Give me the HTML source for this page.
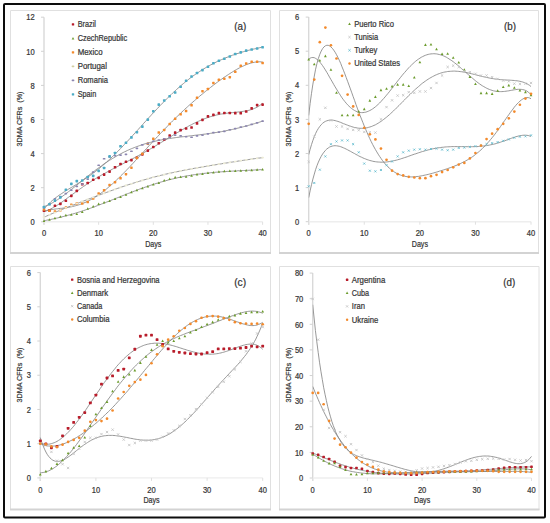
<!DOCTYPE html>
<html><head><meta charset="utf-8"><title>3DMA CFRs</title><style>html,body{margin:0;padding:0;background:#fff;}body{width:550px;height:523px;position:relative;overflow:hidden;font-family:"Liberation Sans", sans-serif;}</style></head><body>
<svg width="550" height="523" viewBox="0 0 550 523" style="position:absolute;left:0;top:0">
<style>text{font-family:"Liberation Sans",sans-serif;stroke:#363636;stroke-width:0.22px;paint-order:stroke;}</style>
<defs><clipPath id="cb"><rect x="308.7" y="14" width="223.32" height="207.7"/></clipPath><clipPath id="cd"><rect x="312.7" y="270" width="219.8" height="208.0"/></clipPath></defs>
<rect x="0" y="0" width="550" height="523" fill="#fff"/>
<path d="M10.5,253.5 V10.5 H270.5 V253.5" fill="none" stroke="#e0e0e0" stroke-width="1"/>
<rect x="10" y="252.0" width="261" height="2" fill="#d3d3d3"/>
<line x1="44.00" y1="17.20" x2="44.00" y2="224.80" stroke="#d9d9d9" stroke-width="1.4"/>
<line x1="44.00" y1="221.80" x2="262.60" y2="221.80" stroke="#eeeeee" stroke-width="1.4"/>
<line x1="41.00" y1="221.80" x2="44.00" y2="221.80" stroke="#d2d2d2" stroke-width="1"/>
<text x="34.60" y="225" text-anchor="end" font-size="8.2" fill="#363636" textLength="4.20" lengthAdjust="spacingAndGlyphs">0</text>
<line x1="41.00" y1="187.70" x2="44.00" y2="187.70" stroke="#d2d2d2" stroke-width="1"/>
<text x="34.60" y="191" text-anchor="end" font-size="8.2" fill="#363636" textLength="4.20" lengthAdjust="spacingAndGlyphs">2</text>
<line x1="41.00" y1="153.60" x2="44.00" y2="153.60" stroke="#d2d2d2" stroke-width="1"/>
<text x="34.60" y="157" text-anchor="end" font-size="8.2" fill="#363636" textLength="4.20" lengthAdjust="spacingAndGlyphs">4</text>
<line x1="41.00" y1="119.50" x2="44.00" y2="119.50" stroke="#d2d2d2" stroke-width="1"/>
<text x="34.60" y="123" text-anchor="end" font-size="8.2" fill="#363636" textLength="4.20" lengthAdjust="spacingAndGlyphs">6</text>
<line x1="41.00" y1="85.40" x2="44.00" y2="85.40" stroke="#d2d2d2" stroke-width="1"/>
<text x="34.60" y="89" text-anchor="end" font-size="8.2" fill="#363636" textLength="4.20" lengthAdjust="spacingAndGlyphs">8</text>
<line x1="41.00" y1="51.30" x2="44.00" y2="51.30" stroke="#d2d2d2" stroke-width="1"/>
<text x="34.60" y="55" text-anchor="end" font-size="8.2" fill="#363636" textLength="8.40" lengthAdjust="spacingAndGlyphs">10</text>
<line x1="41.00" y1="17.20" x2="44.00" y2="17.20" stroke="#d2d2d2" stroke-width="1"/>
<text x="34.60" y="20" text-anchor="end" font-size="8.2" fill="#363636" textLength="8.40" lengthAdjust="spacingAndGlyphs">12</text>
<line x1="44.00" y1="221.80" x2="44.00" y2="224.80" stroke="#e0e0e0" stroke-width="1"/>
<text x="44.00" y="236.05" text-anchor="middle" font-size="8.2" fill="#363636" textLength="4.20" lengthAdjust="spacingAndGlyphs">0</text>
<line x1="98.65" y1="221.80" x2="98.65" y2="224.80" stroke="#e0e0e0" stroke-width="1"/>
<text x="98.65" y="236.05" text-anchor="middle" font-size="8.2" fill="#363636" textLength="8.40" lengthAdjust="spacingAndGlyphs">10</text>
<line x1="153.30" y1="221.80" x2="153.30" y2="224.80" stroke="#e0e0e0" stroke-width="1"/>
<text x="153.30" y="236.05" text-anchor="middle" font-size="8.2" fill="#363636" textLength="8.40" lengthAdjust="spacingAndGlyphs">20</text>
<line x1="207.95" y1="221.80" x2="207.95" y2="224.80" stroke="#e0e0e0" stroke-width="1"/>
<text x="207.95" y="236.05" text-anchor="middle" font-size="8.2" fill="#363636" textLength="8.40" lengthAdjust="spacingAndGlyphs">30</text>
<line x1="262.60" y1="221.80" x2="262.60" y2="224.80" stroke="#e0e0e0" stroke-width="1"/>
<text x="262.60" y="236.05" text-anchor="middle" font-size="8.2" fill="#363636" textLength="8.40" lengthAdjust="spacingAndGlyphs">40</text>
<path d="M279.5,253.5 V10.5 H538.5 V253.5" fill="none" stroke="#e0e0e0" stroke-width="1"/>
<rect x="279" y="252.0" width="260" height="2" fill="#d3d3d3"/>
<line x1="308.70" y1="17.10" x2="308.70" y2="224.70" stroke="#d9d9d9" stroke-width="1.4"/>
<line x1="308.70" y1="221.70" x2="531.02" y2="221.70" stroke="#eeeeee" stroke-width="1.4"/>
<line x1="305.70" y1="221.70" x2="308.70" y2="221.70" stroke="#d2d2d2" stroke-width="1"/>
<text x="299.30" y="225" text-anchor="end" font-size="8.2" fill="#363636" textLength="4.20" lengthAdjust="spacingAndGlyphs">0</text>
<line x1="305.70" y1="187.60" x2="308.70" y2="187.60" stroke="#d2d2d2" stroke-width="1"/>
<text x="299.30" y="191" text-anchor="end" font-size="8.2" fill="#363636" textLength="4.20" lengthAdjust="spacingAndGlyphs">1</text>
<line x1="305.70" y1="153.50" x2="308.70" y2="153.50" stroke="#d2d2d2" stroke-width="1"/>
<text x="299.30" y="157" text-anchor="end" font-size="8.2" fill="#363636" textLength="4.20" lengthAdjust="spacingAndGlyphs">2</text>
<line x1="305.70" y1="119.40" x2="308.70" y2="119.40" stroke="#d2d2d2" stroke-width="1"/>
<text x="299.30" y="123" text-anchor="end" font-size="8.2" fill="#363636" textLength="4.20" lengthAdjust="spacingAndGlyphs">3</text>
<line x1="305.70" y1="85.30" x2="308.70" y2="85.30" stroke="#d2d2d2" stroke-width="1"/>
<text x="299.30" y="88" text-anchor="end" font-size="8.2" fill="#363636" textLength="4.20" lengthAdjust="spacingAndGlyphs">4</text>
<line x1="305.70" y1="51.20" x2="308.70" y2="51.20" stroke="#d2d2d2" stroke-width="1"/>
<text x="299.30" y="54" text-anchor="end" font-size="8.2" fill="#363636" textLength="4.20" lengthAdjust="spacingAndGlyphs">5</text>
<line x1="305.70" y1="17.10" x2="308.70" y2="17.10" stroke="#d2d2d2" stroke-width="1"/>
<text x="299.30" y="20" text-anchor="end" font-size="8.2" fill="#363636" textLength="4.20" lengthAdjust="spacingAndGlyphs">6</text>
<line x1="308.70" y1="221.70" x2="308.70" y2="224.70" stroke="#e0e0e0" stroke-width="1"/>
<text x="308.70" y="235.95" text-anchor="middle" font-size="8.2" fill="#363636" textLength="4.20" lengthAdjust="spacingAndGlyphs">0</text>
<line x1="364.28" y1="221.70" x2="364.28" y2="224.70" stroke="#e0e0e0" stroke-width="1"/>
<text x="364.28" y="235.95" text-anchor="middle" font-size="8.2" fill="#363636" textLength="8.40" lengthAdjust="spacingAndGlyphs">10</text>
<line x1="419.86" y1="221.70" x2="419.86" y2="224.70" stroke="#e0e0e0" stroke-width="1"/>
<text x="419.86" y="235.95" text-anchor="middle" font-size="8.2" fill="#363636" textLength="8.40" lengthAdjust="spacingAndGlyphs">20</text>
<line x1="475.44" y1="221.70" x2="475.44" y2="224.70" stroke="#e0e0e0" stroke-width="1"/>
<text x="475.44" y="235.95" text-anchor="middle" font-size="8.2" fill="#363636" textLength="8.40" lengthAdjust="spacingAndGlyphs">30</text>
<line x1="531.02" y1="221.70" x2="531.02" y2="224.70" stroke="#e0e0e0" stroke-width="1"/>
<text x="531.02" y="235.95" text-anchor="middle" font-size="8.2" fill="#363636" textLength="8.40" lengthAdjust="spacingAndGlyphs">40</text>
<path d="M10.5,510 V266.5 H270.5 V510" fill="none" stroke="#e0e0e0" stroke-width="1"/>
<rect x="10" y="508.5" width="261" height="2" fill="#d3d3d3"/>
<line x1="40.30" y1="272.58" x2="40.30" y2="480.90" stroke="#d9d9d9" stroke-width="1.4"/>
<line x1="40.30" y1="477.90" x2="262.70" y2="477.90" stroke="#eeeeee" stroke-width="1.4"/>
<line x1="37.30" y1="477.90" x2="40.30" y2="477.90" stroke="#d2d2d2" stroke-width="1"/>
<text x="30.90" y="481" text-anchor="end" font-size="8.2" fill="#363636" textLength="4.20" lengthAdjust="spacingAndGlyphs">0</text>
<line x1="37.30" y1="443.68" x2="40.30" y2="443.68" stroke="#d2d2d2" stroke-width="1"/>
<text x="30.90" y="447" text-anchor="end" font-size="8.2" fill="#363636" textLength="4.20" lengthAdjust="spacingAndGlyphs">1</text>
<line x1="37.30" y1="409.46" x2="40.30" y2="409.46" stroke="#d2d2d2" stroke-width="1"/>
<text x="30.90" y="413" text-anchor="end" font-size="8.2" fill="#363636" textLength="4.20" lengthAdjust="spacingAndGlyphs">2</text>
<line x1="37.30" y1="375.24" x2="40.30" y2="375.24" stroke="#d2d2d2" stroke-width="1"/>
<text x="30.90" y="378" text-anchor="end" font-size="8.2" fill="#363636" textLength="4.20" lengthAdjust="spacingAndGlyphs">3</text>
<line x1="37.30" y1="341.02" x2="40.30" y2="341.02" stroke="#d2d2d2" stroke-width="1"/>
<text x="30.90" y="344" text-anchor="end" font-size="8.2" fill="#363636" textLength="4.20" lengthAdjust="spacingAndGlyphs">4</text>
<line x1="37.30" y1="306.80" x2="40.30" y2="306.80" stroke="#d2d2d2" stroke-width="1"/>
<text x="30.90" y="310" text-anchor="end" font-size="8.2" fill="#363636" textLength="4.20" lengthAdjust="spacingAndGlyphs">5</text>
<line x1="37.30" y1="272.58" x2="40.30" y2="272.58" stroke="#d2d2d2" stroke-width="1"/>
<text x="30.90" y="276" text-anchor="end" font-size="8.2" fill="#363636" textLength="4.20" lengthAdjust="spacingAndGlyphs">6</text>
<line x1="40.30" y1="477.90" x2="40.30" y2="480.90" stroke="#e0e0e0" stroke-width="1"/>
<text x="40.30" y="493.15" text-anchor="middle" font-size="8.2" fill="#363636" textLength="4.20" lengthAdjust="spacingAndGlyphs">0</text>
<line x1="95.90" y1="477.90" x2="95.90" y2="480.90" stroke="#e0e0e0" stroke-width="1"/>
<text x="95.90" y="493.15" text-anchor="middle" font-size="8.2" fill="#363636" textLength="8.40" lengthAdjust="spacingAndGlyphs">10</text>
<line x1="151.50" y1="477.90" x2="151.50" y2="480.90" stroke="#e0e0e0" stroke-width="1"/>
<text x="151.50" y="493.15" text-anchor="middle" font-size="8.2" fill="#363636" textLength="8.40" lengthAdjust="spacingAndGlyphs">20</text>
<line x1="207.10" y1="477.90" x2="207.10" y2="480.90" stroke="#e0e0e0" stroke-width="1"/>
<text x="207.10" y="493.15" text-anchor="middle" font-size="8.2" fill="#363636" textLength="8.40" lengthAdjust="spacingAndGlyphs">30</text>
<line x1="262.70" y1="477.90" x2="262.70" y2="480.90" stroke="#e0e0e0" stroke-width="1"/>
<text x="262.70" y="493.15" text-anchor="middle" font-size="8.2" fill="#363636" textLength="8.40" lengthAdjust="spacingAndGlyphs">40</text>
<path d="M279.5,510 V266.5 H539.0 V510" fill="none" stroke="#e0e0e0" stroke-width="1"/>
<rect x="279" y="508.5" width="260.5" height="2" fill="#d3d3d3"/>
<line x1="312.70" y1="273.08" x2="312.70" y2="481.00" stroke="#d9d9d9" stroke-width="1.4"/>
<line x1="312.70" y1="478.00" x2="531.50" y2="478.00" stroke="#eeeeee" stroke-width="1.4"/>
<line x1="309.70" y1="478.00" x2="312.70" y2="478.00" stroke="#d2d2d2" stroke-width="1"/>
<text x="303.30" y="481" text-anchor="end" font-size="8.2" fill="#363636" textLength="4.20" lengthAdjust="spacingAndGlyphs">0</text>
<line x1="309.70" y1="452.38" x2="312.70" y2="452.38" stroke="#d2d2d2" stroke-width="1"/>
<text x="303.30" y="456" text-anchor="end" font-size="8.2" fill="#363636" textLength="8.40" lengthAdjust="spacingAndGlyphs">10</text>
<line x1="309.70" y1="426.77" x2="312.70" y2="426.77" stroke="#d2d2d2" stroke-width="1"/>
<text x="303.30" y="430" text-anchor="end" font-size="8.2" fill="#363636" textLength="8.40" lengthAdjust="spacingAndGlyphs">20</text>
<line x1="309.70" y1="401.15" x2="312.70" y2="401.15" stroke="#d2d2d2" stroke-width="1"/>
<text x="303.30" y="404" text-anchor="end" font-size="8.2" fill="#363636" textLength="8.40" lengthAdjust="spacingAndGlyphs">30</text>
<line x1="309.70" y1="375.54" x2="312.70" y2="375.54" stroke="#d2d2d2" stroke-width="1"/>
<text x="303.30" y="379" text-anchor="end" font-size="8.2" fill="#363636" textLength="8.40" lengthAdjust="spacingAndGlyphs">40</text>
<line x1="309.70" y1="349.92" x2="312.70" y2="349.92" stroke="#d2d2d2" stroke-width="1"/>
<text x="303.30" y="353" text-anchor="end" font-size="8.2" fill="#363636" textLength="8.40" lengthAdjust="spacingAndGlyphs">50</text>
<line x1="309.70" y1="324.31" x2="312.70" y2="324.31" stroke="#d2d2d2" stroke-width="1"/>
<text x="303.30" y="328" text-anchor="end" font-size="8.2" fill="#363636" textLength="8.40" lengthAdjust="spacingAndGlyphs">60</text>
<line x1="309.70" y1="298.69" x2="312.70" y2="298.69" stroke="#d2d2d2" stroke-width="1"/>
<text x="303.30" y="302" text-anchor="end" font-size="8.2" fill="#363636" textLength="8.40" lengthAdjust="spacingAndGlyphs">70</text>
<line x1="309.70" y1="273.08" x2="312.70" y2="273.08" stroke="#d2d2d2" stroke-width="1"/>
<text x="303.30" y="276" text-anchor="end" font-size="8.2" fill="#363636" textLength="8.40" lengthAdjust="spacingAndGlyphs">80</text>
<line x1="312.70" y1="478.00" x2="312.70" y2="481.00" stroke="#e0e0e0" stroke-width="1"/>
<text x="312.70" y="493.25" text-anchor="middle" font-size="8.2" fill="#363636" textLength="4.20" lengthAdjust="spacingAndGlyphs">0</text>
<line x1="367.40" y1="478.00" x2="367.40" y2="481.00" stroke="#e0e0e0" stroke-width="1"/>
<text x="367.40" y="493.25" text-anchor="middle" font-size="8.2" fill="#363636" textLength="8.40" lengthAdjust="spacingAndGlyphs">10</text>
<line x1="422.10" y1="478.00" x2="422.10" y2="481.00" stroke="#e0e0e0" stroke-width="1"/>
<text x="422.10" y="493.25" text-anchor="middle" font-size="8.2" fill="#363636" textLength="8.40" lengthAdjust="spacingAndGlyphs">20</text>
<line x1="476.80" y1="478.00" x2="476.80" y2="481.00" stroke="#e0e0e0" stroke-width="1"/>
<text x="476.80" y="493.25" text-anchor="middle" font-size="8.2" fill="#363636" textLength="8.40" lengthAdjust="spacingAndGlyphs">30</text>
<line x1="531.50" y1="478.00" x2="531.50" y2="481.00" stroke="#e0e0e0" stroke-width="1"/>
<text x="531.50" y="493.25" text-anchor="middle" font-size="8.2" fill="#363636" textLength="8.40" lengthAdjust="spacingAndGlyphs">40</text>
<rect x="4" y="4" width="541" height="513.6" rx="1" fill="none" stroke="#0d0d0d" stroke-width="2"/>
<polyline points="44.0,211.5 45.4,211.1 46.7,210.7 48.1,210.1 49.5,209.5 50.8,208.9 52.2,208.2 53.6,207.4 54.9,206.6 56.3,205.8 57.7,204.9 59.0,204.0 60.4,203.1 61.8,202.2 63.1,201.2 64.5,200.2 65.9,199.2 67.2,198.2 68.6,197.2 70.0,196.2 71.3,195.2 72.7,194.2 74.1,193.2 75.4,192.2 76.8,191.2 78.2,190.3 79.5,189.3 80.9,188.3 82.3,187.4 83.6,186.4 85.0,185.5 86.4,184.5 87.7,183.6 89.1,182.7 90.5,181.9 91.8,181.0 93.2,180.1 94.6,179.3 95.9,178.4 97.3,177.6 98.7,176.8 100.0,176.0 101.4,175.2 102.7,174.4 104.1,173.7 105.5,172.9 106.8,172.2 108.2,171.4 109.6,170.7 110.9,170.0 112.3,169.2 113.7,168.5 115.0,167.8 116.4,167.1 117.8,166.4 119.1,165.7 120.5,165.0 121.9,164.3 123.2,163.6 124.6,162.9 126.0,162.2 127.3,161.5 128.7,160.7 130.1,160.0 131.4,159.3 132.8,158.6 134.2,157.9 135.5,157.1 136.9,156.4 138.3,155.7 139.6,154.9 141.0,154.2 142.4,153.4 143.7,152.7 145.1,151.9 146.5,151.1 147.8,150.4 149.2,149.6 150.6,148.8 151.9,148.0 153.3,147.2 154.7,146.4 156.0,145.6 157.4,144.7 158.8,143.9 160.1,143.1 161.5,142.3 162.9,141.4 164.2,140.6 165.6,139.8 167.0,138.9 168.3,138.1 169.7,137.2 171.1,136.4 172.4,135.6 173.8,134.7 175.2,133.9 176.5,133.1 177.9,132.3 179.3,131.5 180.6,130.6 182.0,129.9 183.4,129.1 184.7,128.3 186.1,127.5 187.5,126.8 188.8,126.0 190.2,125.3 191.6,124.6 192.9,123.9 194.3,123.2 195.7,122.5 197.0,121.9 198.4,121.3 199.8,120.7 201.1,120.1 202.5,119.5 203.9,119.0 205.2,118.5 206.6,118.0 207.9,117.5 209.3,117.0 210.7,116.6 212.0,116.2 213.4,115.8 214.8,115.5 216.1,115.1 217.5,114.8 218.9,114.5 220.2,114.2 221.6,114.0 223.0,113.8 224.3,113.5 225.7,113.3 227.1,113.2 228.4,113.0 229.8,112.8 231.2,112.7 232.5,112.6 233.9,112.4 235.3,112.3 236.6,112.2 238.0,112.0 239.4,111.9 240.7,111.7 242.1,111.5 243.5,111.3 244.8,111.1 246.2,110.9 247.6,110.6 248.9,110.3 250.3,109.9 251.7,109.5 253.0,109.0 254.4,108.4 255.8,107.8 257.1,107.1 258.5,106.3 259.9,105.4 261.2,104.4 262.6,103.3" fill="none" stroke="#858585" stroke-width="0.85"/>
<polyline points="44.0,220.8 45.4,220.5 46.7,220.2 48.1,219.9 49.5,219.7 50.8,219.4 52.2,219.1 53.6,218.8 54.9,218.5 56.3,218.2 57.7,217.9 59.0,217.6 60.4,217.2 61.8,216.9 63.1,216.6 64.5,216.2 65.9,215.9 67.2,215.5 68.6,215.1 70.0,214.8 71.3,214.4 72.7,214.0 74.1,213.6 75.4,213.2 76.8,212.8 78.2,212.3 79.5,211.9 80.9,211.5 82.3,211.0 83.6,210.6 85.0,210.1 86.4,209.6 87.7,209.2 89.1,208.7 90.5,208.2 91.8,207.7 93.2,207.2 94.6,206.7 95.9,206.2 97.3,205.7 98.7,205.2 100.0,204.7 101.4,204.1 102.7,203.6 104.1,203.1 105.5,202.5 106.8,202.0 108.2,201.5 109.6,200.9 110.9,200.4 112.3,199.8 113.7,199.3 115.0,198.7 116.4,198.2 117.8,197.6 119.1,197.1 120.5,196.5 121.9,196.0 123.2,195.5 124.6,194.9 126.0,194.4 127.3,193.8 128.7,193.3 130.1,192.8 131.4,192.2 132.8,191.7 134.2,191.2 135.5,190.7 136.9,190.2 138.3,189.6 139.6,189.1 141.0,188.6 142.4,188.1 143.7,187.7 145.1,187.2 146.5,186.7 147.8,186.2 149.2,185.8 150.6,185.3 151.9,184.8 153.3,184.4 154.7,184.0 156.0,183.5 157.4,183.1 158.8,182.7 160.1,182.3 161.5,181.9 162.9,181.5 164.2,181.1 165.6,180.7 167.0,180.4 168.3,180.0 169.7,179.7 171.1,179.3 172.4,179.0 173.8,178.7 175.2,178.3 176.5,178.0 177.9,177.7 179.3,177.4 180.6,177.1 182.0,176.9 183.4,176.6 184.7,176.3 186.1,176.1 187.5,175.8 188.8,175.6 190.2,175.4 191.6,175.1 192.9,174.9 194.3,174.7 195.7,174.5 197.0,174.3 198.4,174.1 199.8,174.0 201.1,173.8 202.5,173.6 203.9,173.4 205.2,173.3 206.6,173.1 207.9,173.0 209.3,172.9 210.7,172.7 212.0,172.6 213.4,172.5 214.8,172.3 216.1,172.2 217.5,172.1 218.9,172.0 220.2,171.9 221.6,171.8 223.0,171.7 224.3,171.6 225.7,171.5 227.1,171.4 228.4,171.4 229.8,171.3 231.2,171.2 232.5,171.1 233.9,171.0 235.3,171.0 236.6,170.9 238.0,170.8 239.4,170.7 240.7,170.7 242.1,170.6 243.5,170.5 244.8,170.5 246.2,170.4 247.6,170.3 248.9,170.3 250.3,170.2 251.7,170.1 253.0,170.1 254.4,170.0 255.8,169.9 257.1,169.9 258.5,169.8 259.9,169.7 261.2,169.7 262.6,169.6" fill="none" stroke="#858585" stroke-width="0.85"/>
<polyline points="44.0,211.3 45.4,210.9 46.7,210.6 48.1,210.2 49.5,210.0 50.8,209.7 52.2,209.5 53.6,209.3 54.9,209.1 56.3,208.9 57.7,208.8 59.0,208.6 60.4,208.4 61.8,208.3 63.1,208.1 64.5,207.9 65.9,207.7 67.2,207.5 68.6,207.3 70.0,207.0 71.3,206.8 72.7,206.5 74.1,206.1 75.4,205.8 76.8,205.4 78.2,205.0 79.5,204.6 80.9,204.1 82.3,203.6 83.6,203.1 85.0,202.5 86.4,201.9 87.7,201.2 89.1,200.6 90.5,199.8 91.8,199.1 93.2,198.3 94.6,197.5 95.9,196.6 97.3,195.8 98.7,194.8 100.0,193.9 101.4,192.9 102.7,191.9 104.1,190.9 105.5,189.8 106.8,188.7 108.2,187.5 109.6,186.4 110.9,185.2 112.3,184.0 113.7,182.8 115.0,181.5 116.4,180.2 117.8,178.9 119.1,177.6 120.5,176.2 121.9,174.9 123.2,173.5 124.6,172.1 126.0,170.7 127.3,169.3 128.7,167.9 130.1,166.4 131.4,165.0 132.8,163.5 134.2,162.0 135.5,160.5 136.9,159.1 138.3,157.6 139.6,156.1 141.0,154.6 142.4,153.1 143.7,151.6 145.1,150.1 146.5,148.6 147.8,147.1 149.2,145.6 150.6,144.1 151.9,142.6 153.3,141.1 154.7,139.7 156.0,138.2 157.4,136.7 158.8,135.3 160.1,133.8 161.5,132.4 162.9,130.9 164.2,129.5 165.6,128.1 167.0,126.7 168.3,125.3 169.7,123.9 171.1,122.5 172.4,121.1 173.8,119.8 175.2,118.4 176.5,117.1 177.9,115.8 179.3,114.5 180.6,113.2 182.0,111.9 183.4,110.6 184.7,109.3 186.1,108.1 187.5,106.8 188.8,105.6 190.2,104.4 191.6,103.2 192.9,102.0 194.3,100.8 195.7,99.6 197.0,98.4 198.4,97.3 199.8,96.1 201.1,95.0 202.5,93.9 203.9,92.7 205.2,91.6 206.6,90.5 207.9,89.5 209.3,88.4 210.7,87.3 212.0,86.3 213.4,85.2 214.8,84.2 216.1,83.1 217.5,82.1 218.9,81.1 220.2,80.1 221.6,79.2 223.0,78.2 224.3,77.2 225.7,76.3 227.1,75.4 228.4,74.5 229.8,73.6 231.2,72.7 232.5,71.9 233.9,71.0 235.3,70.2 236.6,69.4 238.0,68.7 239.4,67.9 240.7,67.2 242.1,66.5 243.5,65.9 244.8,65.3 246.2,64.7 247.6,64.2 248.9,63.7 250.3,63.3 251.7,62.9 253.0,62.5 254.4,62.3 255.8,62.0 257.1,61.9 258.5,61.8 259.9,61.8 261.2,61.9 262.6,62.0" fill="none" stroke="#858585" stroke-width="0.85"/>
<polyline points="44.0,217.3 45.4,216.6 46.7,216.0 48.1,215.4 49.5,214.8 50.8,214.2 52.2,213.6 53.6,213.0 54.9,212.4 56.3,211.8 57.7,211.3 59.0,210.7 60.4,210.1 61.8,209.6 63.1,209.0 64.5,208.5 65.9,207.9 67.2,207.4 68.6,206.8 70.0,206.3 71.3,205.8 72.7,205.2 74.1,204.7 75.4,204.2 76.8,203.6 78.2,203.1 79.5,202.6 80.9,202.0 82.3,201.5 83.6,201.0 85.0,200.5 86.4,199.9 87.7,199.4 89.1,198.9 90.5,198.4 91.8,197.9 93.2,197.3 94.6,196.8 95.9,196.3 97.3,195.8 98.7,195.3 100.0,194.8 101.4,194.3 102.7,193.8 104.1,193.3 105.5,192.8 106.8,192.3 108.2,191.8 109.6,191.3 110.9,190.8 112.3,190.3 113.7,189.8 115.0,189.3 116.4,188.8 117.8,188.3 119.1,187.9 120.5,187.4 121.9,186.9 123.2,186.5 124.6,186.0 126.0,185.5 127.3,185.1 128.7,184.6 130.1,184.2 131.4,183.8 132.8,183.3 134.2,182.9 135.5,182.5 136.9,182.0 138.3,181.6 139.6,181.2 141.0,180.8 142.4,180.4 143.7,180.0 145.1,179.6 146.5,179.2 147.8,178.8 149.2,178.4 150.6,178.0 151.9,177.7 153.3,177.3 154.7,176.9 156.0,176.6 157.4,176.2 158.8,175.9 160.1,175.5 161.5,175.2 162.9,174.9 164.2,174.5 165.6,174.2 167.0,173.9 168.3,173.6 169.7,173.3 171.1,173.0 172.4,172.7 173.8,172.4 175.2,172.1 176.5,171.8 177.9,171.5 179.3,171.2 180.6,170.9 182.0,170.7 183.4,170.4 184.7,170.1 186.1,169.9 187.5,169.6 188.8,169.3 190.2,169.1 191.6,168.8 192.9,168.6 194.3,168.3 195.7,168.1 197.0,167.9 198.4,167.6 199.8,167.4 201.1,167.2 202.5,166.9 203.9,166.7 205.2,166.5 206.6,166.2 207.9,166.0 209.3,165.8 210.7,165.5 212.0,165.3 213.4,165.1 214.8,164.9 216.1,164.7 217.5,164.4 218.9,164.2 220.2,164.0 221.6,163.8 223.0,163.5 224.3,163.3 225.7,163.1 227.1,162.9 228.4,162.7 229.8,162.4 231.2,162.2 232.5,162.0 233.9,161.8 235.3,161.6 236.6,161.4 238.0,161.1 239.4,160.9 240.7,160.7 242.1,160.5 243.5,160.3 244.8,160.1 246.2,159.9 247.6,159.7 248.9,159.5 250.3,159.3 251.7,159.1 253.0,158.9 254.4,158.7 255.8,158.5 257.1,158.3 258.5,158.1 259.9,158.0 261.2,157.8 262.6,157.7" fill="none" stroke="#858585" stroke-width="0.85"/>
<polyline points="44.0,206.6 45.4,206.1 46.7,205.6 48.1,205.0 49.5,204.4 50.8,203.7 52.2,202.9 53.6,202.2 54.9,201.3 56.3,200.5 57.7,199.6 59.0,198.7 60.4,197.7 61.8,196.8 63.1,195.8 64.5,194.8 65.9,193.7 67.2,192.7 68.6,191.6 70.0,190.6 71.3,189.5 72.7,188.4 74.1,187.3 75.4,186.2 76.8,185.1 78.2,184.0 79.5,182.8 80.9,181.7 82.3,180.6 83.6,179.5 85.0,178.4 86.4,177.3 87.7,176.2 89.1,175.1 90.5,174.0 91.8,173.0 93.2,171.9 94.6,170.9 95.9,169.8 97.3,168.8 98.7,167.8 100.0,166.8 101.4,165.9 102.7,164.9 104.1,163.9 105.5,163.0 106.8,162.1 108.2,161.2 109.6,160.3 110.9,159.5 112.3,158.6 113.7,157.8 115.0,157.0 116.4,156.2 117.8,155.4 119.1,154.7 120.5,153.9 121.9,153.2 123.2,152.5 124.6,151.8 126.0,151.2 127.3,150.5 128.7,149.9 130.1,149.3 131.4,148.7 132.8,148.2 134.2,147.6 135.5,147.1 136.9,146.6 138.3,146.1 139.6,145.6 141.0,145.1 142.4,144.7 143.7,144.2 145.1,143.8 146.5,143.4 147.8,143.0 149.2,142.7 150.6,142.3 151.9,142.0 153.3,141.6 154.7,141.3 156.0,141.0 157.4,140.7 158.8,140.4 160.1,140.1 161.5,139.9 162.9,139.6 164.2,139.4 165.6,139.1 167.0,138.9 168.3,138.7 169.7,138.5 171.1,138.3 172.4,138.1 173.8,137.9 175.2,137.7 176.5,137.5 177.9,137.3 179.3,137.2 180.6,137.0 182.0,136.8 183.4,136.7 184.7,136.5 186.1,136.3 187.5,136.2 188.8,136.0 190.2,135.9 191.6,135.7 192.9,135.6 194.3,135.4 195.7,135.2 197.0,135.1 198.4,134.9 199.8,134.8 201.1,134.6 202.5,134.4 203.9,134.2 205.2,134.1 206.6,133.9 207.9,133.7 209.3,133.5 210.7,133.3 212.0,133.1 213.4,132.9 214.8,132.7 216.1,132.5 217.5,132.3 218.9,132.0 220.2,131.8 221.6,131.6 223.0,131.3 224.3,131.1 225.7,130.8 227.1,130.5 228.4,130.2 229.8,130.0 231.2,129.7 232.5,129.4 233.9,129.1 235.3,128.8 236.6,128.4 238.0,128.1 239.4,127.8 240.7,127.4 242.1,127.1 243.5,126.7 244.8,126.4 246.2,126.0 247.6,125.6 248.9,125.2 250.3,124.9 251.7,124.5 253.0,124.1 254.4,123.7 255.8,123.2 257.1,122.8 258.5,122.4 259.9,122.0 261.2,121.6 262.6,121.1" fill="none" stroke="#858585" stroke-width="0.85"/>
<polyline points="44.0,208.9 45.4,207.3 46.7,205.8 48.1,204.4 49.5,203.1 50.8,201.8 52.2,200.6 53.6,199.5 54.9,198.4 56.3,197.3 57.7,196.3 59.0,195.3 60.4,194.4 61.8,193.5 63.1,192.6 64.5,191.7 65.9,190.8 67.2,190.0 68.6,189.1 70.0,188.3 71.3,187.5 72.7,186.7 74.1,185.8 75.4,185.0 76.8,184.2 78.2,183.3 79.5,182.5 80.9,181.6 82.3,180.7 83.6,179.9 85.0,178.9 86.4,178.0 87.7,177.1 89.1,176.1 90.5,175.2 91.8,174.2 93.2,173.1 94.6,172.1 95.9,171.1 97.3,170.0 98.7,168.9 100.0,167.8 101.4,166.6 102.7,165.5 104.1,164.3 105.5,163.1 106.8,161.8 108.2,160.6 109.6,159.3 110.9,158.1 112.3,156.8 113.7,155.4 115.0,154.1 116.4,152.7 117.8,151.4 119.1,150.0 120.5,148.6 121.9,147.2 123.2,145.7 124.6,144.3 126.0,142.8 127.3,141.4 128.7,139.9 130.1,138.4 131.4,136.9 132.8,135.4 134.2,133.9 135.5,132.4 136.9,130.9 138.3,129.4 139.6,127.9 141.0,126.4 142.4,124.9 143.7,123.3 145.1,121.8 146.5,120.3 147.8,118.8 149.2,117.3 150.6,115.8 151.9,114.3 153.3,112.9 154.7,111.4 156.0,109.9 157.4,108.5 158.8,107.0 160.1,105.6 161.5,104.2 162.9,102.8 164.2,101.4 165.6,100.0 167.0,98.6 168.3,97.3 169.7,95.9 171.1,94.6 172.4,93.3 173.8,92.0 175.2,90.8 176.5,89.5 177.9,88.3 179.3,87.1 180.6,85.9 182.0,84.7 183.4,83.6 184.7,82.5 186.1,81.3 187.5,80.3 188.8,79.2 190.2,78.1 191.6,77.1 192.9,76.1 194.3,75.1 195.7,74.2 197.0,73.2 198.4,72.3 199.8,71.4 201.1,70.5 202.5,69.7 203.9,68.8 205.2,68.0 206.6,67.2 207.9,66.4 209.3,65.6 210.7,64.9 212.0,64.2 213.4,63.5 214.8,62.8 216.1,62.1 217.5,61.4 218.9,60.8 220.2,60.2 221.6,59.6 223.0,59.0 224.3,58.4 225.7,57.8 227.1,57.3 228.4,56.8 229.8,56.2 231.2,55.7 232.5,55.2 233.9,54.8 235.3,54.3 236.6,53.8 238.0,53.4 239.4,53.0 240.7,52.5 242.1,52.1 243.5,51.7 244.8,51.3 246.2,50.9 247.6,50.6 248.9,50.2 250.3,49.9 251.7,49.5 253.0,49.2 254.4,48.9 255.8,48.6 257.1,48.3 258.5,48.0 259.9,47.7 261.2,47.4 262.6,47.2" fill="none" stroke="#858585" stroke-width="0.85"/>
<rect x="42.70" y="209.40" width="2.60" height="2.60" rx="0.59" fill="#b81c2a"/>
<rect x="48.17" y="209.23" width="2.60" height="2.60" rx="0.59" fill="#b81c2a"/>
<rect x="53.63" y="204.44" width="2.60" height="2.60" rx="0.59" fill="#b81c2a"/>
<rect x="59.09" y="202.57" width="2.60" height="2.60" rx="0.59" fill="#b81c2a"/>
<rect x="64.56" y="199.49" width="2.60" height="2.60" rx="0.59" fill="#b81c2a"/>
<rect x="70.03" y="194.54" width="2.60" height="2.60" rx="0.59" fill="#b81c2a"/>
<rect x="75.49" y="189.59" width="2.60" height="2.60" rx="0.59" fill="#b81c2a"/>
<rect x="80.95" y="182.92" width="2.60" height="2.60" rx="0.59" fill="#b81c2a"/>
<rect x="86.42" y="181.73" width="2.60" height="2.60" rx="0.59" fill="#b81c2a"/>
<rect x="91.89" y="178.48" width="2.60" height="2.60" rx="0.59" fill="#b81c2a"/>
<rect x="97.35" y="176.60" width="2.60" height="2.60" rx="0.59" fill="#b81c2a"/>
<rect x="102.81" y="173.36" width="2.60" height="2.60" rx="0.59" fill="#b81c2a"/>
<rect x="108.28" y="170.28" width="2.60" height="2.60" rx="0.59" fill="#b81c2a"/>
<rect x="113.75" y="166.01" width="2.60" height="2.60" rx="0.59" fill="#b81c2a"/>
<rect x="119.21" y="162.77" width="2.60" height="2.60" rx="0.59" fill="#b81c2a"/>
<rect x="124.67" y="160.38" width="2.60" height="2.60" rx="0.59" fill="#b81c2a"/>
<rect x="130.14" y="158.84" width="2.60" height="2.60" rx="0.59" fill="#b81c2a"/>
<rect x="135.60" y="156.45" width="2.60" height="2.60" rx="0.59" fill="#b81c2a"/>
<rect x="141.07" y="153.03" width="2.60" height="2.60" rx="0.59" fill="#b81c2a"/>
<rect x="146.53" y="149.28" width="2.60" height="2.60" rx="0.59" fill="#b81c2a"/>
<rect x="152.00" y="145.69" width="2.60" height="2.60" rx="0.59" fill="#b81c2a"/>
<rect x="157.46" y="141.93" width="2.60" height="2.60" rx="0.59" fill="#b81c2a"/>
<rect x="162.93" y="138.17" width="2.60" height="2.60" rx="0.59" fill="#b81c2a"/>
<rect x="168.39" y="134.25" width="2.60" height="2.60" rx="0.59" fill="#b81c2a"/>
<rect x="173.86" y="131.34" width="2.60" height="2.60" rx="0.59" fill="#b81c2a"/>
<rect x="179.32" y="128.78" width="2.60" height="2.60" rx="0.59" fill="#b81c2a"/>
<rect x="184.79" y="127.24" width="2.60" height="2.60" rx="0.59" fill="#b81c2a"/>
<rect x="190.25" y="126.22" width="2.60" height="2.60" rx="0.59" fill="#b81c2a"/>
<rect x="195.72" y="122.12" width="2.60" height="2.60" rx="0.59" fill="#b81c2a"/>
<rect x="201.18" y="118.53" width="2.60" height="2.60" rx="0.59" fill="#b81c2a"/>
<rect x="206.65" y="115.12" width="2.60" height="2.60" rx="0.59" fill="#b81c2a"/>
<rect x="212.11" y="113.58" width="2.60" height="2.60" rx="0.59" fill="#b81c2a"/>
<rect x="217.58" y="111.87" width="2.60" height="2.60" rx="0.59" fill="#b81c2a"/>
<rect x="223.04" y="111.70" width="2.60" height="2.60" rx="0.59" fill="#b81c2a"/>
<rect x="228.51" y="111.70" width="2.60" height="2.60" rx="0.59" fill="#b81c2a"/>
<rect x="233.97" y="111.87" width="2.60" height="2.60" rx="0.59" fill="#b81c2a"/>
<rect x="239.44" y="111.87" width="2.60" height="2.60" rx="0.59" fill="#b81c2a"/>
<rect x="244.90" y="110.16" width="2.60" height="2.60" rx="0.59" fill="#b81c2a"/>
<rect x="250.37" y="107.09" width="2.60" height="2.60" rx="0.59" fill="#b81c2a"/>
<rect x="255.83" y="103.84" width="2.60" height="2.60" rx="0.59" fill="#b81c2a"/>
<rect x="261.30" y="103.33" width="2.60" height="2.60" rx="0.59" fill="#b81c2a"/>
<path d="M44.00,219.43 L45.32,221.94 L42.68,221.94Z" fill="#6b9b2c"/>
<path d="M49.47,218.23 L50.79,220.74 L48.15,220.74Z" fill="#6b9b2c"/>
<path d="M54.93,216.70 L56.25,219.20 L53.61,219.20Z" fill="#6b9b2c"/>
<path d="M60.39,215.16 L61.71,217.67 L59.07,217.67Z" fill="#6b9b2c"/>
<path d="M65.86,213.79 L67.18,216.30 L64.54,216.30Z" fill="#6b9b2c"/>
<path d="M71.33,213.28 L72.64,215.79 L70.01,215.79Z" fill="#6b9b2c"/>
<path d="M76.79,212.60 L78.11,215.10 L75.47,215.10Z" fill="#6b9b2c"/>
<path d="M82.25,210.55 L83.57,213.05 L80.94,213.05Z" fill="#6b9b2c"/>
<path d="M87.72,207.30 L89.04,209.81 L86.40,209.81Z" fill="#6b9b2c"/>
<path d="M93.19,204.91 L94.50,207.42 L91.87,207.42Z" fill="#6b9b2c"/>
<path d="M98.65,202.52 L99.97,205.03 L97.33,205.03Z" fill="#6b9b2c"/>
<path d="M104.11,200.98 L105.43,203.49 L102.80,203.49Z" fill="#6b9b2c"/>
<path d="M109.58,199.44 L110.90,201.95 L108.26,201.95Z" fill="#6b9b2c"/>
<path d="M115.05,197.57 L116.36,200.07 L113.73,200.07Z" fill="#6b9b2c"/>
<path d="M120.51,195.52 L121.83,198.02 L119.19,198.02Z" fill="#6b9b2c"/>
<path d="M125.97,193.30 L127.29,195.80 L124.66,195.80Z" fill="#6b9b2c"/>
<path d="M131.44,190.73 L132.76,193.24 L130.12,193.24Z" fill="#6b9b2c"/>
<path d="M136.91,188.68 L138.22,191.19 L135.59,191.19Z" fill="#6b9b2c"/>
<path d="M142.37,186.81 L143.69,189.31 L141.05,189.31Z" fill="#6b9b2c"/>
<path d="M147.83,184.93 L149.15,187.43 L146.51,187.43Z" fill="#6b9b2c"/>
<path d="M153.30,182.88 L154.62,185.38 L151.98,185.38Z" fill="#6b9b2c"/>
<path d="M158.76,181.51 L160.08,184.02 L157.44,184.02Z" fill="#6b9b2c"/>
<path d="M164.23,178.95 L165.55,181.46 L162.91,181.46Z" fill="#6b9b2c"/>
<path d="M169.69,177.58 L171.01,180.09 L168.38,180.09Z" fill="#6b9b2c"/>
<path d="M175.16,175.87 L176.48,178.38 L173.84,178.38Z" fill="#6b9b2c"/>
<path d="M180.62,175.53 L181.94,178.04 L179.31,178.04Z" fill="#6b9b2c"/>
<path d="M186.09,175.36 L187.41,177.87 L184.77,177.87Z" fill="#6b9b2c"/>
<path d="M191.56,174.17 L192.88,176.67 L190.24,176.67Z" fill="#6b9b2c"/>
<path d="M197.02,172.97 L198.34,175.48 L195.70,175.48Z" fill="#6b9b2c"/>
<path d="M202.48,172.46 L203.80,174.97 L201.16,174.97Z" fill="#6b9b2c"/>
<path d="M207.95,171.43 L209.27,173.94 L206.63,173.94Z" fill="#6b9b2c"/>
<path d="M213.41,170.92 L214.73,173.43 L212.09,173.43Z" fill="#6b9b2c"/>
<path d="M218.88,170.24 L220.20,172.75 L217.56,172.75Z" fill="#6b9b2c"/>
<path d="M224.34,169.73 L225.66,172.23 L223.03,172.23Z" fill="#6b9b2c"/>
<path d="M229.81,169.55 L231.13,172.06 L228.49,172.06Z" fill="#6b9b2c"/>
<path d="M235.28,169.55 L236.59,172.06 L233.96,172.06Z" fill="#6b9b2c"/>
<path d="M240.74,169.21 L242.06,171.72 L239.42,171.72Z" fill="#6b9b2c"/>
<path d="M246.20,169.04 L247.52,171.55 L244.88,171.55Z" fill="#6b9b2c"/>
<path d="M251.67,168.70 L252.99,171.21 L250.35,171.21Z" fill="#6b9b2c"/>
<path d="M257.13,168.36 L258.45,170.87 L255.81,170.87Z" fill="#6b9b2c"/>
<path d="M262.60,168.02 L263.92,170.53 L261.28,170.53Z" fill="#6b9b2c"/>
<rect x="42.75" y="208.25" width="2.50" height="2.50" rx="0.56" fill="#f38a2c"/>
<rect x="48.22" y="209.45" width="2.50" height="2.50" rx="0.56" fill="#f38a2c"/>
<rect x="53.68" y="210.13" width="2.50" height="2.50" rx="0.56" fill="#f38a2c"/>
<rect x="59.14" y="208.94" width="2.50" height="2.50" rx="0.56" fill="#f38a2c"/>
<rect x="64.61" y="206.37" width="2.50" height="2.50" rx="0.56" fill="#f38a2c"/>
<rect x="70.08" y="203.47" width="2.50" height="2.50" rx="0.56" fill="#f38a2c"/>
<rect x="75.54" y="202.27" width="2.50" height="2.50" rx="0.56" fill="#f38a2c"/>
<rect x="81.00" y="202.27" width="2.50" height="2.50" rx="0.56" fill="#f38a2c"/>
<rect x="86.47" y="200.74" width="2.50" height="2.50" rx="0.56" fill="#f38a2c"/>
<rect x="91.94" y="197.32" width="2.50" height="2.50" rx="0.56" fill="#f38a2c"/>
<rect x="97.40" y="192.20" width="2.50" height="2.50" rx="0.56" fill="#f38a2c"/>
<rect x="102.86" y="188.95" width="2.50" height="2.50" rx="0.56" fill="#f38a2c"/>
<rect x="108.33" y="183.83" width="2.50" height="2.50" rx="0.56" fill="#f38a2c"/>
<rect x="113.80" y="180.92" width="2.50" height="2.50" rx="0.56" fill="#f38a2c"/>
<rect x="119.26" y="177.00" width="2.50" height="2.50" rx="0.56" fill="#f38a2c"/>
<rect x="124.72" y="172.90" width="2.50" height="2.50" rx="0.56" fill="#f38a2c"/>
<rect x="130.19" y="166.41" width="2.50" height="2.50" rx="0.56" fill="#f38a2c"/>
<rect x="135.66" y="156.84" width="2.50" height="2.50" rx="0.56" fill="#f38a2c"/>
<rect x="141.12" y="152.40" width="2.50" height="2.50" rx="0.56" fill="#f38a2c"/>
<rect x="146.58" y="142.49" width="2.50" height="2.50" rx="0.56" fill="#f38a2c"/>
<rect x="152.05" y="137.54" width="2.50" height="2.50" rx="0.56" fill="#f38a2c"/>
<rect x="157.51" y="131.22" width="2.50" height="2.50" rx="0.56" fill="#f38a2c"/>
<rect x="162.98" y="128.66" width="2.50" height="2.50" rx="0.56" fill="#f38a2c"/>
<rect x="168.44" y="122.85" width="2.50" height="2.50" rx="0.56" fill="#f38a2c"/>
<rect x="173.91" y="117.56" width="2.50" height="2.50" rx="0.56" fill="#f38a2c"/>
<rect x="179.38" y="113.12" width="2.50" height="2.50" rx="0.56" fill="#f38a2c"/>
<rect x="184.84" y="109.87" width="2.50" height="2.50" rx="0.56" fill="#f38a2c"/>
<rect x="190.31" y="104.06" width="2.50" height="2.50" rx="0.56" fill="#f38a2c"/>
<rect x="195.77" y="96.55" width="2.50" height="2.50" rx="0.56" fill="#f38a2c"/>
<rect x="201.23" y="89.89" width="2.50" height="2.50" rx="0.56" fill="#f38a2c"/>
<rect x="206.70" y="87.67" width="2.50" height="2.50" rx="0.56" fill="#f38a2c"/>
<rect x="212.16" y="81.86" width="2.50" height="2.50" rx="0.56" fill="#f38a2c"/>
<rect x="217.63" y="78.62" width="2.50" height="2.50" rx="0.56" fill="#f38a2c"/>
<rect x="223.09" y="77.42" width="2.50" height="2.50" rx="0.56" fill="#f38a2c"/>
<rect x="228.56" y="75.88" width="2.50" height="2.50" rx="0.56" fill="#f38a2c"/>
<rect x="234.03" y="70.59" width="2.50" height="2.50" rx="0.56" fill="#f38a2c"/>
<rect x="239.49" y="64.44" width="2.50" height="2.50" rx="0.56" fill="#f38a2c"/>
<rect x="244.95" y="62.22" width="2.50" height="2.50" rx="0.56" fill="#f38a2c"/>
<rect x="250.42" y="60.51" width="2.50" height="2.50" rx="0.56" fill="#f38a2c"/>
<rect x="255.88" y="60.51" width="2.50" height="2.50" rx="0.56" fill="#f38a2c"/>
<rect x="261.35" y="61.71" width="2.50" height="2.50" rx="0.56" fill="#f38a2c"/>
<rect x="42.65" y="216.34" width="2.7" height="1.7" rx="0.7" fill="#ecebd6"/>
<rect x="48.12" y="214.02" width="2.7" height="1.7" rx="0.7" fill="#ecebd6"/>
<rect x="53.58" y="211.69" width="2.7" height="1.7" rx="0.7" fill="#ecebd6"/>
<rect x="59.04" y="209.37" width="2.7" height="1.7" rx="0.7" fill="#ecebd6"/>
<rect x="64.51" y="207.05" width="2.7" height="1.7" rx="0.7" fill="#ecebd6"/>
<rect x="69.98" y="204.72" width="2.7" height="1.7" rx="0.7" fill="#ecebd6"/>
<rect x="75.44" y="202.67" width="2.7" height="1.7" rx="0.7" fill="#ecebd6"/>
<rect x="80.91" y="200.62" width="2.7" height="1.7" rx="0.7" fill="#ecebd6"/>
<rect x="86.37" y="198.58" width="2.7" height="1.7" rx="0.7" fill="#ecebd6"/>
<rect x="91.84" y="196.53" width="2.7" height="1.7" rx="0.7" fill="#ecebd6"/>
<rect x="97.30" y="194.48" width="2.7" height="1.7" rx="0.7" fill="#ecebd6"/>
<rect x="102.77" y="192.49" width="2.7" height="1.7" rx="0.7" fill="#ecebd6"/>
<rect x="108.23" y="190.51" width="2.7" height="1.7" rx="0.7" fill="#ecebd6"/>
<rect x="113.70" y="188.53" width="2.7" height="1.7" rx="0.7" fill="#ecebd6"/>
<rect x="119.16" y="186.55" width="2.7" height="1.7" rx="0.7" fill="#ecebd6"/>
<rect x="124.62" y="184.57" width="2.7" height="1.7" rx="0.7" fill="#ecebd6"/>
<rect x="130.09" y="182.90" width="2.7" height="1.7" rx="0.7" fill="#ecebd6"/>
<rect x="135.56" y="181.22" width="2.7" height="1.7" rx="0.7" fill="#ecebd6"/>
<rect x="141.02" y="179.55" width="2.7" height="1.7" rx="0.7" fill="#ecebd6"/>
<rect x="146.48" y="177.87" width="2.7" height="1.7" rx="0.7" fill="#ecebd6"/>
<rect x="151.95" y="176.20" width="2.7" height="1.7" rx="0.7" fill="#ecebd6"/>
<rect x="157.41" y="174.97" width="2.7" height="1.7" rx="0.7" fill="#ecebd6"/>
<rect x="162.88" y="173.74" width="2.7" height="1.7" rx="0.7" fill="#ecebd6"/>
<rect x="168.34" y="172.51" width="2.7" height="1.7" rx="0.7" fill="#ecebd6"/>
<rect x="173.81" y="171.28" width="2.7" height="1.7" rx="0.7" fill="#ecebd6"/>
<rect x="179.28" y="170.05" width="2.7" height="1.7" rx="0.7" fill="#ecebd6"/>
<rect x="184.74" y="169.06" width="2.7" height="1.7" rx="0.7" fill="#ecebd6"/>
<rect x="190.21" y="168.07" width="2.7" height="1.7" rx="0.7" fill="#ecebd6"/>
<rect x="195.67" y="167.08" width="2.7" height="1.7" rx="0.7" fill="#ecebd6"/>
<rect x="201.13" y="166.09" width="2.7" height="1.7" rx="0.7" fill="#ecebd6"/>
<rect x="206.60" y="165.10" width="2.7" height="1.7" rx="0.7" fill="#ecebd6"/>
<rect x="212.06" y="164.21" width="2.7" height="1.7" rx="0.7" fill="#ecebd6"/>
<rect x="217.53" y="163.32" width="2.7" height="1.7" rx="0.7" fill="#ecebd6"/>
<rect x="223.00" y="162.43" width="2.7" height="1.7" rx="0.7" fill="#ecebd6"/>
<rect x="228.46" y="161.55" width="2.7" height="1.7" rx="0.7" fill="#ecebd6"/>
<rect x="233.93" y="160.66" width="2.7" height="1.7" rx="0.7" fill="#ecebd6"/>
<rect x="239.39" y="159.87" width="2.7" height="1.7" rx="0.7" fill="#ecebd6"/>
<rect x="244.85" y="159.09" width="2.7" height="1.7" rx="0.7" fill="#ecebd6"/>
<rect x="250.32" y="158.30" width="2.7" height="1.7" rx="0.7" fill="#ecebd6"/>
<rect x="255.78" y="157.51" width="2.7" height="1.7" rx="0.7" fill="#ecebd6"/>
<rect x="261.25" y="156.73" width="2.7" height="1.7" rx="0.7" fill="#ecebd6"/>
<rect x="42.65" y="206.94" width="2.7" height="1.7" rx="0.7" fill="#8c86b0"/>
<rect x="48.12" y="203.53" width="2.7" height="1.7" rx="0.7" fill="#8c86b0"/>
<rect x="53.58" y="198.06" width="2.7" height="1.7" rx="0.7" fill="#8c86b0"/>
<rect x="59.04" y="195.67" width="2.7" height="1.7" rx="0.7" fill="#8c86b0"/>
<rect x="64.51" y="192.77" width="2.7" height="1.7" rx="0.7" fill="#8c86b0"/>
<rect x="69.98" y="189.35" width="2.7" height="1.7" rx="0.7" fill="#8c86b0"/>
<rect x="75.44" y="185.59" width="2.7" height="1.7" rx="0.7" fill="#8c86b0"/>
<rect x="80.91" y="183.20" width="2.7" height="1.7" rx="0.7" fill="#8c86b0"/>
<rect x="86.37" y="178.25" width="2.7" height="1.7" rx="0.7" fill="#8c86b0"/>
<rect x="91.84" y="171.25" width="2.7" height="1.7" rx="0.7" fill="#8c86b0"/>
<rect x="97.30" y="164.42" width="2.7" height="1.7" rx="0.7" fill="#8c86b0"/>
<rect x="102.77" y="157.92" width="2.7" height="1.7" rx="0.7" fill="#8c86b0"/>
<rect x="108.23" y="156.05" width="2.7" height="1.7" rx="0.7" fill="#8c86b0"/>
<rect x="113.70" y="154.68" width="2.7" height="1.7" rx="0.7" fill="#8c86b0"/>
<rect x="119.16" y="154.34" width="2.7" height="1.7" rx="0.7" fill="#8c86b0"/>
<rect x="124.62" y="153.48" width="2.7" height="1.7" rx="0.7" fill="#8c86b0"/>
<rect x="130.09" y="150.41" width="2.7" height="1.7" rx="0.7" fill="#8c86b0"/>
<rect x="135.56" y="147.51" width="2.7" height="1.7" rx="0.7" fill="#8c86b0"/>
<rect x="141.02" y="144.09" width="2.7" height="1.7" rx="0.7" fill="#8c86b0"/>
<rect x="146.48" y="142.72" width="2.7" height="1.7" rx="0.7" fill="#8c86b0"/>
<rect x="151.95" y="140.50" width="2.7" height="1.7" rx="0.7" fill="#8c86b0"/>
<rect x="157.41" y="139.31" width="2.7" height="1.7" rx="0.7" fill="#8c86b0"/>
<rect x="162.88" y="138.11" width="2.7" height="1.7" rx="0.7" fill="#8c86b0"/>
<rect x="168.34" y="136.40" width="2.7" height="1.7" rx="0.7" fill="#8c86b0"/>
<rect x="173.81" y="134.18" width="2.7" height="1.7" rx="0.7" fill="#8c86b0"/>
<rect x="179.28" y="135.04" width="2.7" height="1.7" rx="0.7" fill="#8c86b0"/>
<rect x="184.74" y="135.89" width="2.7" height="1.7" rx="0.7" fill="#8c86b0"/>
<rect x="190.21" y="136.40" width="2.7" height="1.7" rx="0.7" fill="#8c86b0"/>
<rect x="195.67" y="135.04" width="2.7" height="1.7" rx="0.7" fill="#8c86b0"/>
<rect x="201.13" y="134.18" width="2.7" height="1.7" rx="0.7" fill="#8c86b0"/>
<rect x="206.60" y="132.99" width="2.7" height="1.7" rx="0.7" fill="#8c86b0"/>
<rect x="212.06" y="131.79" width="2.7" height="1.7" rx="0.7" fill="#8c86b0"/>
<rect x="217.53" y="131.28" width="2.7" height="1.7" rx="0.7" fill="#8c86b0"/>
<rect x="223.00" y="130.43" width="2.7" height="1.7" rx="0.7" fill="#8c86b0"/>
<rect x="228.46" y="128.89" width="2.7" height="1.7" rx="0.7" fill="#8c86b0"/>
<rect x="233.93" y="127.69" width="2.7" height="1.7" rx="0.7" fill="#8c86b0"/>
<rect x="239.39" y="126.33" width="2.7" height="1.7" rx="0.7" fill="#8c86b0"/>
<rect x="244.85" y="125.13" width="2.7" height="1.7" rx="0.7" fill="#8c86b0"/>
<rect x="250.32" y="123.59" width="2.7" height="1.7" rx="0.7" fill="#8c86b0"/>
<rect x="255.78" y="122.06" width="2.7" height="1.7" rx="0.7" fill="#8c86b0"/>
<rect x="261.25" y="120.35" width="2.7" height="1.7" rx="0.7" fill="#8c86b0"/>
<rect x="42.70" y="205.64" width="2.60" height="2.60" rx="0.59" fill="#4bacc6"/>
<rect x="48.17" y="202.91" width="2.60" height="2.60" rx="0.59" fill="#4bacc6"/>
<rect x="53.63" y="199.32" width="2.60" height="2.60" rx="0.59" fill="#4bacc6"/>
<rect x="59.09" y="196.08" width="2.60" height="2.60" rx="0.59" fill="#4bacc6"/>
<rect x="64.56" y="188.39" width="2.60" height="2.60" rx="0.59" fill="#4bacc6"/>
<rect x="70.03" y="182.58" width="2.60" height="2.60" rx="0.59" fill="#4bacc6"/>
<rect x="75.49" y="179.85" width="2.60" height="2.60" rx="0.59" fill="#4bacc6"/>
<rect x="80.95" y="179.17" width="2.60" height="2.60" rx="0.59" fill="#4bacc6"/>
<rect x="86.42" y="175.75" width="2.60" height="2.60" rx="0.59" fill="#4bacc6"/>
<rect x="91.89" y="174.55" width="2.60" height="2.60" rx="0.59" fill="#4bacc6"/>
<rect x="97.35" y="169.60" width="2.60" height="2.60" rx="0.59" fill="#4bacc6"/>
<rect x="102.81" y="166.70" width="2.60" height="2.60" rx="0.59" fill="#4bacc6"/>
<rect x="108.28" y="155.08" width="2.60" height="2.60" rx="0.59" fill="#4bacc6"/>
<rect x="113.75" y="151.67" width="2.60" height="2.60" rx="0.59" fill="#4bacc6"/>
<rect x="119.21" y="145.01" width="2.60" height="2.60" rx="0.59" fill="#4bacc6"/>
<rect x="124.67" y="141.42" width="2.60" height="2.60" rx="0.59" fill="#4bacc6"/>
<rect x="130.14" y="136.12" width="2.60" height="2.60" rx="0.59" fill="#4bacc6"/>
<rect x="135.60" y="131.00" width="2.60" height="2.60" rx="0.59" fill="#4bacc6"/>
<rect x="141.07" y="125.36" width="2.60" height="2.60" rx="0.59" fill="#4bacc6"/>
<rect x="146.53" y="118.36" width="2.60" height="2.60" rx="0.59" fill="#4bacc6"/>
<rect x="152.00" y="109.99" width="2.60" height="2.60" rx="0.59" fill="#4bacc6"/>
<rect x="157.46" y="103.33" width="2.60" height="2.60" rx="0.59" fill="#4bacc6"/>
<rect x="162.93" y="99.23" width="2.60" height="2.60" rx="0.59" fill="#4bacc6"/>
<rect x="168.39" y="94.96" width="2.60" height="2.60" rx="0.59" fill="#4bacc6"/>
<rect x="173.86" y="91.20" width="2.60" height="2.60" rx="0.59" fill="#4bacc6"/>
<rect x="179.32" y="85.40" width="2.60" height="2.60" rx="0.59" fill="#4bacc6"/>
<rect x="184.79" y="79.42" width="2.60" height="2.60" rx="0.59" fill="#4bacc6"/>
<rect x="190.25" y="75.15" width="2.60" height="2.60" rx="0.59" fill="#4bacc6"/>
<rect x="195.72" y="71.73" width="2.60" height="2.60" rx="0.59" fill="#4bacc6"/>
<rect x="201.18" y="68.83" width="2.60" height="2.60" rx="0.59" fill="#4bacc6"/>
<rect x="206.65" y="65.41" width="2.60" height="2.60" rx="0.59" fill="#4bacc6"/>
<rect x="212.11" y="62.00" width="2.60" height="2.60" rx="0.59" fill="#4bacc6"/>
<rect x="217.58" y="59.44" width="2.60" height="2.60" rx="0.59" fill="#4bacc6"/>
<rect x="223.04" y="57.39" width="2.60" height="2.60" rx="0.59" fill="#4bacc6"/>
<rect x="228.51" y="55.17" width="2.60" height="2.60" rx="0.59" fill="#4bacc6"/>
<rect x="233.97" y="52.77" width="2.60" height="2.60" rx="0.59" fill="#4bacc6"/>
<rect x="239.44" y="51.07" width="2.60" height="2.60" rx="0.59" fill="#4bacc6"/>
<rect x="244.90" y="49.36" width="2.60" height="2.60" rx="0.59" fill="#4bacc6"/>
<rect x="250.37" y="48.16" width="2.60" height="2.60" rx="0.59" fill="#4bacc6"/>
<rect x="255.83" y="47.14" width="2.60" height="2.60" rx="0.59" fill="#4bacc6"/>
<rect x="261.30" y="45.94" width="2.60" height="2.60" rx="0.59" fill="#4bacc6"/>
<rect x="71.80" y="23.20" width="2.40" height="2.40" rx="0.54" fill="#b81c2a"/>
<text x="77.70" y="27.35" font-size="8.2" fill="#363636" textLength="18.2" lengthAdjust="spacingAndGlyphs">Brazil</text>
<path d="M73.00,36.88 L74.32,39.39 L71.68,39.39Z" fill="#6b9b2c"/>
<text x="77.70" y="41.35" font-size="8.2" fill="#363636" textLength="49.5" lengthAdjust="spacingAndGlyphs">CzechRepublic</text>
<rect x="71.80" y="51.20" width="2.40" height="2.40" rx="0.54" fill="#f38a2c"/>
<text x="77.70" y="55.35" font-size="8.2" fill="#363636" textLength="24.9" lengthAdjust="spacingAndGlyphs">Mexico</text>
<rect x="71.65" y="65.55" width="2.7" height="1.7" rx="0.7" fill="#d2cfa2"/>
<text x="77.70" y="69.35" font-size="8.2" fill="#363636" textLength="29.3" lengthAdjust="spacingAndGlyphs">Portugal</text>
<rect x="71.65" y="79.55" width="2.7" height="1.7" rx="0.7" fill="#8c86b0"/>
<text x="77.70" y="83.35" font-size="8.2" fill="#363636" textLength="30.3" lengthAdjust="spacingAndGlyphs">Romania</text>
<rect x="71.80" y="93.20" width="2.40" height="2.40" rx="0.54" fill="#4bacc6"/>
<text x="77.70" y="97.35" font-size="8.2" fill="#363636" textLength="18.6" lengthAdjust="spacingAndGlyphs">Spain</text>
<text x="240.30" y="29.60" text-anchor="middle" font-size="10" fill="#333" textLength="12" lengthAdjust="spacingAndGlyphs">(a)</text>
<text x="153.30" y="246.80" text-anchor="middle" font-size="8.8" fill="#363636" textLength="16.2" lengthAdjust="spacingAndGlyphs">Days</text>
<text transform="translate(19.80,119.00) rotate(-90)" x="0" y="0" text-anchor="middle" font-size="7.8" fill="#363636" textLength="55" lengthAdjust="spacingAndGlyphs" dominant-baseline="central">3DMA CFRs&#160;&#160;(%)</text>
<polyline points="308.7,59.3 310.1,58.2 311.5,57.6 312.9,57.5 314.3,57.7 315.6,58.4 317.0,59.3 318.4,60.6 319.8,62.1 321.2,63.8 322.6,65.7 324.0,67.8 325.4,70.0 326.8,72.3 328.2,74.7 329.5,77.1 330.9,79.5 332.3,81.9 333.7,84.4 335.1,86.8 336.5,89.1 337.9,91.4 339.3,93.6 340.7,95.8 342.0,97.8 343.4,99.7 344.8,101.5 346.2,103.2 347.6,104.8 349.0,106.2 350.4,107.5 351.8,108.6 353.2,109.6 354.6,110.5 355.9,111.2 357.3,111.8 358.7,112.2 360.1,112.5 361.5,112.6 362.9,112.6 364.3,112.4 365.7,112.2 367.1,111.7 368.4,111.2 369.8,110.5 371.2,109.8 372.6,108.9 374.0,107.9 375.4,106.8 376.8,105.6 378.2,104.3 379.6,103.0 381.0,101.5 382.3,100.0 383.7,98.5 385.1,96.9 386.5,95.2 387.9,93.5 389.3,91.8 390.7,90.0 392.1,88.2 393.5,86.4 394.8,84.7 396.2,82.9 397.6,81.1 399.0,79.3 400.4,77.6 401.8,75.8 403.2,74.1 404.6,72.5 406.0,70.9 407.4,69.3 408.7,67.8 410.1,66.4 411.5,65.0 412.9,63.7 414.3,62.4 415.7,61.2 417.1,60.1 418.5,59.1 419.9,58.2 421.2,57.3 422.6,56.6 424.0,55.9 425.4,55.3 426.8,54.8 428.2,54.4 429.6,54.1 431.0,53.9 432.4,53.8 433.8,53.7 435.1,53.8 436.5,53.9 437.9,54.2 439.3,54.5 440.7,54.9 442.1,55.3 443.5,55.9 444.9,56.5 446.3,57.2 447.6,58.0 449.0,58.9 450.4,59.8 451.8,60.7 453.2,61.7 454.6,62.8 456.0,63.9 457.4,65.0 458.8,66.2 460.2,67.4 461.5,68.6 462.9,69.8 464.3,71.0 465.7,72.3 467.1,73.5 468.5,74.8 469.9,76.0 471.3,77.2 472.7,78.4 474.1,79.6 475.4,80.7 476.8,81.8 478.2,82.9 479.6,83.9 481.0,84.9 482.4,85.8 483.8,86.6 485.2,87.4 486.6,88.2 487.9,88.8 489.3,89.4 490.7,89.9 492.1,90.4 493.5,90.8 494.9,91.1 496.3,91.3 497.7,91.5 499.1,91.6 500.5,91.6 501.8,91.6 503.2,91.5 504.6,91.4 506.0,91.2 507.4,91.0 508.8,90.8 510.2,90.5 511.6,90.3 513.0,90.0 514.3,89.8 515.7,89.6 517.1,89.4 518.5,89.3 519.9,89.3 521.3,89.4 522.7,89.6 524.1,89.9 525.5,90.4 526.9,91.1 528.2,92.1 529.6,93.3 531.0,94.7" fill="none" stroke="#858585" stroke-width="0.85" clip-path="url(#cb)"/>
<polyline points="308.7,154.7 310.1,149.4 311.5,144.6 312.9,140.4 314.3,136.7 315.6,133.5 317.0,130.7 318.4,128.4 319.8,126.4 321.2,124.7 322.6,123.3 324.0,122.2 325.4,121.4 326.8,120.8 328.2,120.4 329.5,120.2 330.9,120.1 332.3,120.1 333.7,120.3 335.1,120.6 336.5,121.0 337.9,121.4 339.3,121.9 340.7,122.4 342.0,123.0 343.4,123.6 344.8,124.1 346.2,124.7 347.6,125.2 349.0,125.8 350.4,126.2 351.8,126.7 353.2,127.1 354.6,127.5 355.9,127.7 357.3,128.0 358.7,128.2 360.1,128.3 361.5,128.3 362.9,128.3 364.3,128.2 365.7,128.0 367.1,127.8 368.4,127.4 369.8,127.0 371.2,126.6 372.6,126.0 374.0,125.4 375.4,124.8 376.8,124.0 378.2,123.2 379.6,122.3 381.0,121.4 382.3,120.4 383.7,119.4 385.1,118.3 386.5,117.2 387.9,116.0 389.3,114.8 390.7,113.5 392.1,112.2 393.5,110.9 394.8,109.6 396.2,108.2 397.6,106.9 399.0,105.5 400.4,104.1 401.8,102.6 403.2,101.2 404.6,99.8 406.0,98.4 407.4,97.0 408.7,95.6 410.1,94.3 411.5,92.9 412.9,91.6 414.3,90.3 415.7,89.0 417.1,87.8 418.5,86.6 419.9,85.4 421.2,84.2 422.6,83.1 424.0,82.1 425.4,81.1 426.8,80.1 428.2,79.2 429.6,78.3 431.0,77.5 432.4,76.7 433.8,76.0 435.1,75.3 436.5,74.7 437.9,74.1 439.3,73.6 440.7,73.1 442.1,72.7 443.5,72.3 444.9,72.0 446.3,71.8 447.6,71.5 449.0,71.4 450.4,71.3 451.8,71.2 453.2,71.1 454.6,71.1 456.0,71.2 457.4,71.3 458.8,71.4 460.2,71.6 461.5,71.7 462.9,71.9 464.3,72.2 465.7,72.4 467.1,72.7 468.5,73.0 469.9,73.3 471.3,73.7 472.7,74.0 474.1,74.4 475.4,74.7 476.8,75.1 478.2,75.4 479.6,75.8 481.0,76.1 482.4,76.5 483.8,76.8 485.2,77.1 486.6,77.4 487.9,77.7 489.3,78.0 490.7,78.3 492.1,78.5 493.5,78.7 494.9,79.0 496.3,79.1 497.7,79.3 499.1,79.5 500.5,79.6 501.8,79.7 503.2,79.8 504.6,79.9 506.0,80.0 507.4,80.1 508.8,80.1 510.2,80.2 511.6,80.3 513.0,80.4 514.3,80.5 515.7,80.7 517.1,80.8 518.5,81.0 519.9,81.3 521.3,81.6 522.7,82.0 524.1,82.5 525.5,83.1 526.9,83.7 528.2,84.5 529.6,85.4 531.0,86.5" fill="none" stroke="#858585" stroke-width="0.85" clip-path="url(#cb)"/>
<polyline points="308.7,197.7 310.1,190.9 311.5,184.7 312.9,179.1 314.3,174.1 315.6,169.6 317.0,165.6 318.4,162.1 319.8,159.0 321.2,156.3 322.6,154.0 324.0,152.1 325.4,150.4 326.8,149.0 328.2,148.0 329.5,147.1 330.9,146.5 332.3,146.1 333.7,145.8 335.1,145.7 336.5,145.8 337.9,146.0 339.3,146.3 340.7,146.7 342.0,147.2 343.4,147.8 344.8,148.4 346.2,149.1 347.6,149.8 349.0,150.6 350.4,151.3 351.8,152.1 353.2,152.9 354.6,153.6 355.9,154.4 357.3,155.1 358.7,155.9 360.1,156.6 361.5,157.2 362.9,157.9 364.3,158.5 365.7,159.0 367.1,159.6 368.4,160.0 369.8,160.5 371.2,160.8 372.6,161.2 374.0,161.5 375.4,161.7 376.8,161.9 378.2,162.0 379.6,162.1 381.0,162.2 382.3,162.2 383.7,162.2 385.1,162.1 386.5,162.0 387.9,161.8 389.3,161.6 390.7,161.4 392.1,161.1 393.5,160.8 394.8,160.5 396.2,160.2 397.6,159.8 399.0,159.4 400.4,159.0 401.8,158.5 403.2,158.1 404.6,157.6 406.0,157.2 407.4,156.7 408.7,156.2 410.1,155.7 411.5,155.2 412.9,154.7 414.3,154.2 415.7,153.8 417.1,153.3 418.5,152.8 419.9,152.4 421.2,151.9 422.6,151.5 424.0,151.1 425.4,150.7 426.8,150.3 428.2,149.9 429.6,149.6 431.0,149.2 432.4,148.9 433.8,148.6 435.1,148.4 436.5,148.1 437.9,147.9 439.3,147.7 440.7,147.5 442.1,147.3 443.5,147.2 444.9,147.0 446.3,146.9 447.6,146.8 449.0,146.8 450.4,146.7 451.8,146.6 453.2,146.6 454.6,146.6 456.0,146.6 457.4,146.6 458.8,146.6 460.2,146.6 461.5,146.6 462.9,146.6 464.3,146.6 465.7,146.7 467.1,146.7 468.5,146.7 469.9,146.7 471.3,146.7 472.7,146.7 474.1,146.6 475.4,146.6 476.8,146.6 478.2,146.5 479.6,146.4 481.0,146.3 482.4,146.1 483.8,146.0 485.2,145.8 486.6,145.6 487.9,145.4 489.3,145.1 490.7,144.8 492.1,144.5 493.5,144.2 494.9,143.9 496.3,143.5 497.7,143.1 499.1,142.6 500.5,142.2 501.8,141.7 503.2,141.3 504.6,140.8 506.0,140.3 507.4,139.7 508.8,139.2 510.2,138.7 511.6,138.2 513.0,137.7 514.3,137.3 515.7,136.8 517.1,136.4 518.5,136.1 519.9,135.7 521.3,135.5 522.7,135.3 524.1,135.2 525.5,135.2 526.9,135.3 528.2,135.5 529.6,135.9 531.0,136.4" fill="none" stroke="#858585" stroke-width="0.85" clip-path="url(#cb)"/>
<polyline points="308.7,115.4 310.1,103.7 311.5,93.3 312.9,84.1 314.3,76.1 315.6,69.2 317.0,63.3 318.4,58.4 319.8,54.3 321.2,51.1 322.6,48.6 324.0,46.9 325.4,45.8 326.8,45.3 328.2,45.3 329.5,45.9 330.9,46.9 332.3,48.3 333.7,50.1 335.1,52.2 336.5,54.7 337.9,57.4 339.3,60.3 340.7,63.4 342.0,66.8 343.4,70.2 344.8,73.8 346.2,77.5 347.6,81.3 349.0,85.1 350.4,88.9 351.8,92.8 353.2,96.7 354.6,100.5 355.9,104.3 357.3,108.1 358.7,111.9 360.1,115.5 361.5,119.1 362.9,122.6 364.3,126.1 365.7,129.4 367.1,132.6 368.4,135.7 369.8,138.7 371.2,141.6 372.6,144.4 374.0,147.0 375.4,149.5 376.8,151.9 378.2,154.2 379.6,156.4 381.0,158.4 382.3,160.3 383.7,162.1 385.1,163.8 386.5,165.3 387.9,166.8 389.3,168.1 390.7,169.3 392.1,170.4 393.5,171.4 394.8,172.3 396.2,173.1 397.6,173.9 399.0,174.5 400.4,175.0 401.8,175.5 403.2,175.9 404.6,176.2 406.0,176.5 407.4,176.7 408.7,176.8 410.1,176.9 411.5,176.9 412.9,176.9 414.3,176.8 415.7,176.7 417.1,176.5 418.5,176.4 419.9,176.1 421.2,175.9 422.6,175.6 424.0,175.3 425.4,175.0 426.8,174.7 428.2,174.4 429.6,174.0 431.0,173.7 432.4,173.3 433.8,172.9 435.1,172.5 436.5,172.1 437.9,171.7 439.3,171.2 440.7,170.8 442.1,170.4 443.5,169.9 444.9,169.5 446.3,169.0 447.6,168.6 449.0,168.1 450.4,167.6 451.8,167.1 453.2,166.6 454.6,166.0 456.0,165.5 457.4,164.9 458.8,164.3 460.2,163.7 461.5,163.0 462.9,162.3 464.3,161.6 465.7,160.9 467.1,160.1 468.5,159.3 469.9,158.4 471.3,157.5 472.7,156.6 474.1,155.6 475.4,154.5 476.8,153.4 478.2,152.3 479.6,151.1 481.0,149.8 482.4,148.5 483.8,147.1 485.2,145.7 486.6,144.2 487.9,142.7 489.3,141.1 490.7,139.4 492.1,137.7 493.5,136.0 494.9,134.2 496.3,132.3 497.7,130.5 499.1,128.5 500.5,126.6 501.8,124.6 503.2,122.6 504.6,120.6 506.0,118.6 507.4,116.6 508.8,114.7 510.2,112.7 511.6,110.8 513.0,109.0 514.3,107.2 515.7,105.5 517.1,103.9 518.5,102.5 519.9,101.2 521.3,100.0 522.7,99.1 524.1,98.3 525.5,97.8 526.9,97.6 528.2,97.6 529.6,98.0 531.0,98.7" fill="none" stroke="#858585" stroke-width="0.85" clip-path="url(#cb)"/>
<path d="M308.70,57.94 L310.07,60.55 L307.32,60.55Z" fill="#6b9b2c"/>
<path d="M314.26,62.70 L315.63,65.31 L312.88,65.31Z" fill="#6b9b2c"/>
<path d="M319.82,58.96 L321.19,61.57 L318.44,61.57Z" fill="#6b9b2c"/>
<path d="M325.37,54.54 L326.75,57.15 L324.00,57.15Z" fill="#6b9b2c"/>
<path d="M330.93,68.14 L332.31,70.75 L329.56,70.75Z" fill="#6b9b2c"/>
<path d="M336.49,91.26 L337.87,93.87 L335.12,93.87Z" fill="#6b9b2c"/>
<path d="M342.05,113.70 L343.42,116.31 L340.67,116.31Z" fill="#6b9b2c"/>
<path d="M347.61,113.70 L348.98,116.31 L346.23,116.31Z" fill="#6b9b2c"/>
<path d="M353.16,113.70 L354.54,116.31 L351.79,116.31Z" fill="#6b9b2c"/>
<path d="M358.72,109.96 L360.10,112.57 L357.35,112.57Z" fill="#6b9b2c"/>
<path d="M364.28,107.58 L365.65,110.19 L362.90,110.19Z" fill="#6b9b2c"/>
<path d="M369.84,99.08 L371.21,101.69 L368.46,101.69Z" fill="#6b9b2c"/>
<path d="M375.40,95.34 L376.77,97.95 L374.02,97.95Z" fill="#6b9b2c"/>
<path d="M380.95,88.54 L382.33,91.15 L379.58,91.15Z" fill="#6b9b2c"/>
<path d="M386.51,87.18 L387.89,89.79 L385.14,89.79Z" fill="#6b9b2c"/>
<path d="M392.07,84.80 L393.44,87.41 L390.69,87.41Z" fill="#6b9b2c"/>
<path d="M397.63,83.10 L399.00,85.71 L396.25,85.71Z" fill="#6b9b2c"/>
<path d="M403.19,83.10 L404.56,85.71 L401.81,85.71Z" fill="#6b9b2c"/>
<path d="M408.74,84.46 L410.12,87.07 L407.37,87.07Z" fill="#6b9b2c"/>
<path d="M414.30,75.96 L415.68,78.57 L412.93,78.57Z" fill="#6b9b2c"/>
<path d="M419.86,60.66 L421.24,63.27 L418.49,63.27Z" fill="#6b9b2c"/>
<path d="M425.42,43.32 L426.79,45.93 L424.04,45.93Z" fill="#6b9b2c"/>
<path d="M430.98,42.98 L432.35,45.59 L429.60,45.59Z" fill="#6b9b2c"/>
<path d="M436.53,47.74 L437.91,50.35 L435.16,50.35Z" fill="#6b9b2c"/>
<path d="M442.09,52.50 L443.47,55.11 L440.72,55.11Z" fill="#6b9b2c"/>
<path d="M447.65,52.16 L449.02,54.77 L446.27,54.77Z" fill="#6b9b2c"/>
<path d="M453.21,56.24 L454.58,58.85 L451.83,58.85Z" fill="#6b9b2c"/>
<path d="M458.77,61.00 L460.14,63.61 L457.39,63.61Z" fill="#6b9b2c"/>
<path d="M464.32,68.14 L465.70,70.75 L462.95,70.75Z" fill="#6b9b2c"/>
<path d="M469.88,75.28 L471.26,77.89 L468.51,77.89Z" fill="#6b9b2c"/>
<path d="M475.44,82.42 L476.81,85.03 L474.06,85.03Z" fill="#6b9b2c"/>
<path d="M481.00,91.60 L482.37,94.21 L479.62,94.21Z" fill="#6b9b2c"/>
<path d="M486.56,91.60 L487.93,94.21 L485.18,94.21Z" fill="#6b9b2c"/>
<path d="M492.11,92.28 L493.49,94.89 L490.74,94.89Z" fill="#6b9b2c"/>
<path d="M497.67,89.22 L499.05,91.83 L496.30,91.83Z" fill="#6b9b2c"/>
<path d="M503.23,85.48 L504.61,88.09 L501.86,88.09Z" fill="#6b9b2c"/>
<path d="M508.79,83.78 L510.16,86.39 L507.41,86.39Z" fill="#6b9b2c"/>
<path d="M514.35,86.16 L515.72,88.77 L512.97,88.77Z" fill="#6b9b2c"/>
<path d="M519.90,88.88 L521.28,91.49 L518.53,91.49Z" fill="#6b9b2c"/>
<path d="M525.46,90.58 L526.84,93.19 L524.09,93.19Z" fill="#6b9b2c"/>
<path d="M531.02,93.64 L532.39,96.25 L529.64,96.25Z" fill="#6b9b2c"/>
<path d="M307.53,160.69 L309.87,163.03 M309.87,160.69 L307.53,163.03" stroke="#c4c4c4" stroke-width="0.85" fill="none"/>
<path d="M313.09,135.53 L315.43,137.87 M315.43,135.53 L313.09,137.87" stroke="#c4c4c4" stroke-width="0.85" fill="none"/>
<path d="M318.65,118.19 L320.99,120.53 M320.99,118.19 L318.65,120.53" stroke="#c4c4c4" stroke-width="0.85" fill="none"/>
<path d="M324.20,106.63 L326.54,108.97 M326.54,106.63 L324.20,108.97" stroke="#c4c4c4" stroke-width="0.85" fill="none"/>
<path d="M329.76,119.21 L332.10,121.55 M332.10,119.21 L329.76,121.55" stroke="#c4c4c4" stroke-width="0.85" fill="none"/>
<path d="M335.32,125.33 L337.66,127.67 M337.66,125.33 L335.32,127.67" stroke="#c4c4c4" stroke-width="0.85" fill="none"/>
<path d="M340.88,125.33 L343.22,127.67 M343.22,125.33 L340.88,127.67" stroke="#c4c4c4" stroke-width="0.85" fill="none"/>
<path d="M346.44,127.71 L348.78,130.05 M348.78,127.71 L346.44,130.05" stroke="#c4c4c4" stroke-width="0.85" fill="none"/>
<path d="M351.99,128.73 L354.33,131.07 M354.33,128.73 L351.99,131.07" stroke="#c4c4c4" stroke-width="0.85" fill="none"/>
<path d="M357.55,129.07 L359.89,131.41 M359.89,129.07 L357.55,131.41" stroke="#c4c4c4" stroke-width="0.85" fill="none"/>
<path d="M363.11,130.77 L365.45,133.11 M365.45,130.77 L363.11,133.11" stroke="#c4c4c4" stroke-width="0.85" fill="none"/>
<path d="M368.67,131.11 L371.01,133.45 M371.01,131.11 L368.67,133.45" stroke="#c4c4c4" stroke-width="0.85" fill="none"/>
<path d="M374.23,131.45 L376.57,133.79 M376.57,131.45 L374.23,133.79" stroke="#c4c4c4" stroke-width="0.85" fill="none"/>
<path d="M379.78,118.19 L382.12,120.53 M382.12,118.19 L379.78,120.53" stroke="#c4c4c4" stroke-width="0.85" fill="none"/>
<path d="M385.34,105.95 L387.68,108.29 M387.68,105.95 L385.34,108.29" stroke="#c4c4c4" stroke-width="0.85" fill="none"/>
<path d="M390.90,99.15 L393.24,101.49 M393.24,99.15 L390.90,101.49" stroke="#c4c4c4" stroke-width="0.85" fill="none"/>
<path d="M396.46,94.39 L398.80,96.73 M398.80,94.39 L396.46,96.73" stroke="#c4c4c4" stroke-width="0.85" fill="none"/>
<path d="M402.02,94.05 L404.36,96.39 M404.36,94.05 L402.02,96.39" stroke="#c4c4c4" stroke-width="0.85" fill="none"/>
<path d="M407.57,90.99 L409.91,93.33 M409.91,90.99 L407.57,93.33" stroke="#c4c4c4" stroke-width="0.85" fill="none"/>
<path d="M413.13,91.67 L415.47,94.01 M415.47,91.67 L413.13,94.01" stroke="#c4c4c4" stroke-width="0.85" fill="none"/>
<path d="M418.69,90.31 L421.03,92.65 M421.03,90.31 L418.69,92.65" stroke="#c4c4c4" stroke-width="0.85" fill="none"/>
<path d="M424.25,90.31 L426.59,92.65 M426.59,90.31 L424.25,92.65" stroke="#c4c4c4" stroke-width="0.85" fill="none"/>
<path d="M429.81,86.91 L432.15,89.25 M432.15,86.91 L429.81,89.25" stroke="#c4c4c4" stroke-width="0.85" fill="none"/>
<path d="M435.36,81.81 L437.70,84.15 M437.70,81.81 L435.36,84.15" stroke="#c4c4c4" stroke-width="0.85" fill="none"/>
<path d="M440.92,74.33 L443.26,76.67 M443.26,74.33 L440.92,76.67" stroke="#c4c4c4" stroke-width="0.85" fill="none"/>
<path d="M446.48,65.83 L448.82,68.17 M448.82,65.83 L446.48,68.17" stroke="#c4c4c4" stroke-width="0.85" fill="none"/>
<path d="M452.04,64.47 L454.38,66.81 M454.38,64.47 L452.04,66.81" stroke="#c4c4c4" stroke-width="0.85" fill="none"/>
<path d="M457.60,65.83 L459.94,68.17 M459.94,65.83 L457.60,68.17" stroke="#c4c4c4" stroke-width="0.85" fill="none"/>
<path d="M463.15,69.91 L465.49,72.25 M465.49,69.91 L463.15,72.25" stroke="#c4c4c4" stroke-width="0.85" fill="none"/>
<path d="M468.71,70.93 L471.05,73.27 M471.05,70.93 L468.71,73.27" stroke="#c4c4c4" stroke-width="0.85" fill="none"/>
<path d="M474.27,72.63 L476.61,74.97 M476.61,72.63 L474.27,74.97" stroke="#c4c4c4" stroke-width="0.85" fill="none"/>
<path d="M479.83,74.33 L482.17,76.67 M482.17,74.33 L479.83,76.67" stroke="#c4c4c4" stroke-width="0.85" fill="none"/>
<path d="M485.39,74.33 L487.73,76.67 M487.73,74.33 L485.39,76.67" stroke="#c4c4c4" stroke-width="0.85" fill="none"/>
<path d="M490.94,76.03 L493.28,78.37 M493.28,76.03 L490.94,78.37" stroke="#c4c4c4" stroke-width="0.85" fill="none"/>
<path d="M496.50,77.73 L498.84,80.07 M498.84,77.73 L496.50,80.07" stroke="#c4c4c4" stroke-width="0.85" fill="none"/>
<path d="M502.06,79.43 L504.40,81.77 M504.40,79.43 L502.06,81.77" stroke="#c4c4c4" stroke-width="0.85" fill="none"/>
<path d="M507.62,80.11 L509.96,82.45 M509.96,80.11 L507.62,82.45" stroke="#c4c4c4" stroke-width="0.85" fill="none"/>
<path d="M513.18,82.49 L515.52,84.83 M515.52,82.49 L513.18,84.83" stroke="#c4c4c4" stroke-width="0.85" fill="none"/>
<path d="M518.73,82.83 L521.07,85.17 M521.07,82.83 L518.73,85.17" stroke="#c4c4c4" stroke-width="0.85" fill="none"/>
<path d="M524.29,82.49 L526.63,84.83 M526.63,82.49 L524.29,84.83" stroke="#c4c4c4" stroke-width="0.85" fill="none"/>
<path d="M529.85,81.81 L532.19,84.15 M532.19,81.81 L529.85,84.15" stroke="#c4c4c4" stroke-width="0.85" fill="none"/>
<path d="M307.71,185.35 L309.69,187.33 M309.69,185.35 L307.71,187.33" stroke="#62bccf" stroke-width="0.85" fill="none"/>
<path d="M313.27,181.95 L315.25,183.93 M315.25,181.95 L313.27,183.93" stroke="#62bccf" stroke-width="0.85" fill="none"/>
<path d="M318.83,168.69 L320.81,170.67 M320.81,168.69 L318.83,170.67" stroke="#62bccf" stroke-width="0.85" fill="none"/>
<path d="M324.38,155.43 L326.36,157.41 M326.36,155.43 L324.38,157.41" stroke="#62bccf" stroke-width="0.85" fill="none"/>
<path d="M329.94,143.19 L331.92,145.17 M331.92,143.19 L329.94,145.17" stroke="#62bccf" stroke-width="0.85" fill="none"/>
<path d="M335.50,140.47 L337.48,142.45 M337.48,140.47 L335.50,142.45" stroke="#62bccf" stroke-width="0.85" fill="none"/>
<path d="M341.06,139.45 L343.04,141.43 M343.04,139.45 L341.06,141.43" stroke="#62bccf" stroke-width="0.85" fill="none"/>
<path d="M346.62,139.45 L348.60,141.43 M348.60,139.45 L346.62,141.43" stroke="#62bccf" stroke-width="0.85" fill="none"/>
<path d="M352.17,143.19 L354.15,145.17 M354.15,143.19 L352.17,145.17" stroke="#62bccf" stroke-width="0.85" fill="none"/>
<path d="M357.73,151.35 L359.71,153.33 M359.71,151.35 L357.73,153.33" stroke="#62bccf" stroke-width="0.85" fill="none"/>
<path d="M363.29,162.57 L365.27,164.55 M365.27,162.57 L363.29,164.55" stroke="#62bccf" stroke-width="0.85" fill="none"/>
<path d="M368.85,169.71 L370.83,171.69 M370.83,169.71 L368.85,171.69" stroke="#62bccf" stroke-width="0.85" fill="none"/>
<path d="M374.41,170.39 L376.39,172.37 M376.39,170.39 L374.41,172.37" stroke="#62bccf" stroke-width="0.85" fill="none"/>
<path d="M379.96,169.03 L381.94,171.01 M381.94,169.03 L379.96,171.01" stroke="#62bccf" stroke-width="0.85" fill="none"/>
<path d="M385.52,164.27 L387.50,166.25 M387.50,164.27 L385.52,166.25" stroke="#62bccf" stroke-width="0.85" fill="none"/>
<path d="M391.08,160.53 L393.06,162.51 M393.06,160.53 L391.08,162.51" stroke="#62bccf" stroke-width="0.85" fill="none"/>
<path d="M396.64,155.43 L398.62,157.41 M398.62,155.43 L396.64,157.41" stroke="#62bccf" stroke-width="0.85" fill="none"/>
<path d="M402.20,151.35 L404.18,153.33 M404.18,151.35 L402.20,153.33" stroke="#62bccf" stroke-width="0.85" fill="none"/>
<path d="M407.75,149.65 L409.73,151.63 M409.73,149.65 L407.75,151.63" stroke="#62bccf" stroke-width="0.85" fill="none"/>
<path d="M413.31,148.63 L415.29,150.61 M415.29,148.63 L413.31,150.61" stroke="#62bccf" stroke-width="0.85" fill="none"/>
<path d="M418.87,148.29 L420.85,150.27 M420.85,148.29 L418.87,150.27" stroke="#62bccf" stroke-width="0.85" fill="none"/>
<path d="M424.43,148.63 L426.41,150.61 M426.41,148.63 L424.43,150.61" stroke="#62bccf" stroke-width="0.85" fill="none"/>
<path d="M429.99,147.95 L431.97,149.93 M431.97,147.95 L429.99,149.93" stroke="#62bccf" stroke-width="0.85" fill="none"/>
<path d="M435.54,147.61 L437.52,149.59 M437.52,147.61 L435.54,149.59" stroke="#62bccf" stroke-width="0.85" fill="none"/>
<path d="M441.10,148.63 L443.08,150.61 M443.08,148.63 L441.10,150.61" stroke="#62bccf" stroke-width="0.85" fill="none"/>
<path d="M446.66,149.31 L448.64,151.29 M448.64,149.31 L446.66,151.29" stroke="#62bccf" stroke-width="0.85" fill="none"/>
<path d="M452.22,148.63 L454.20,150.61 M454.20,148.63 L452.22,150.61" stroke="#62bccf" stroke-width="0.85" fill="none"/>
<path d="M457.78,146.93 L459.76,148.91 M459.76,146.93 L457.78,148.91" stroke="#62bccf" stroke-width="0.85" fill="none"/>
<path d="M463.33,146.59 L465.31,148.57 M465.31,146.59 L463.33,148.57" stroke="#62bccf" stroke-width="0.85" fill="none"/>
<path d="M468.89,145.91 L470.87,147.89 M470.87,145.91 L468.89,147.89" stroke="#62bccf" stroke-width="0.85" fill="none"/>
<path d="M474.45,145.23 L476.43,147.21 M476.43,145.23 L474.45,147.21" stroke="#62bccf" stroke-width="0.85" fill="none"/>
<path d="M480.01,144.55 L481.99,146.53 M481.99,144.55 L480.01,146.53" stroke="#62bccf" stroke-width="0.85" fill="none"/>
<path d="M485.57,143.19 L487.55,145.17 M487.55,143.19 L485.57,145.17" stroke="#62bccf" stroke-width="0.85" fill="none"/>
<path d="M491.12,142.17 L493.10,144.15 M493.10,142.17 L491.12,144.15" stroke="#62bccf" stroke-width="0.85" fill="none"/>
<path d="M496.68,141.15 L498.66,143.13 M498.66,141.15 L496.68,143.13" stroke="#62bccf" stroke-width="0.85" fill="none"/>
<path d="M502.24,139.79 L504.22,141.77 M504.22,139.79 L502.24,141.77" stroke="#62bccf" stroke-width="0.85" fill="none"/>
<path d="M507.80,138.43 L509.78,140.41 M509.78,138.43 L507.80,140.41" stroke="#62bccf" stroke-width="0.85" fill="none"/>
<path d="M513.36,136.73 L515.34,138.71 M515.34,136.73 L513.36,138.71" stroke="#62bccf" stroke-width="0.85" fill="none"/>
<path d="M518.91,135.71 L520.89,137.69 M520.89,135.71 L518.91,137.69" stroke="#62bccf" stroke-width="0.85" fill="none"/>
<path d="M524.47,135.37 L526.45,137.35 M526.45,135.37 L524.47,137.35" stroke="#62bccf" stroke-width="0.85" fill="none"/>
<path d="M530.03,134.35 L532.01,136.33 M532.01,134.35 L530.03,136.33" stroke="#62bccf" stroke-width="0.85" fill="none"/>
<circle cx="308.70" cy="123.78" r="1.35" fill="#f38a2c"/>
<circle cx="314.26" cy="79.58" r="1.35" fill="#f38a2c"/>
<circle cx="319.82" cy="42.18" r="1.35" fill="#f38a2c"/>
<circle cx="325.37" cy="27.56" r="1.35" fill="#f38a2c"/>
<circle cx="330.93" cy="45.24" r="1.35" fill="#f38a2c"/>
<circle cx="336.49" cy="58.50" r="1.35" fill="#f38a2c"/>
<circle cx="342.05" cy="75.84" r="1.35" fill="#f38a2c"/>
<circle cx="347.61" cy="94.54" r="1.35" fill="#f38a2c"/>
<circle cx="353.16" cy="106.44" r="1.35" fill="#f38a2c"/>
<circle cx="358.72" cy="114.94" r="1.35" fill="#f38a2c"/>
<circle cx="364.28" cy="127.86" r="1.35" fill="#f38a2c"/>
<circle cx="369.84" cy="134.32" r="1.35" fill="#f38a2c"/>
<circle cx="375.40" cy="139.42" r="1.35" fill="#f38a2c"/>
<circle cx="380.95" cy="148.60" r="1.35" fill="#f38a2c"/>
<circle cx="386.51" cy="159.82" r="1.35" fill="#f38a2c"/>
<circle cx="392.07" cy="170.70" r="1.35" fill="#f38a2c"/>
<circle cx="397.63" cy="174.10" r="1.35" fill="#f38a2c"/>
<circle cx="403.19" cy="175.46" r="1.35" fill="#f38a2c"/>
<circle cx="408.74" cy="176.82" r="1.35" fill="#f38a2c"/>
<circle cx="414.30" cy="177.50" r="1.35" fill="#f38a2c"/>
<circle cx="419.86" cy="178.18" r="1.35" fill="#f38a2c"/>
<circle cx="425.42" cy="178.18" r="1.35" fill="#f38a2c"/>
<circle cx="430.98" cy="176.14" r="1.35" fill="#f38a2c"/>
<circle cx="436.53" cy="174.78" r="1.35" fill="#f38a2c"/>
<circle cx="442.09" cy="172.06" r="1.35" fill="#f38a2c"/>
<circle cx="447.65" cy="170.02" r="1.35" fill="#f38a2c"/>
<circle cx="453.21" cy="167.30" r="1.35" fill="#f38a2c"/>
<circle cx="458.77" cy="164.58" r="1.35" fill="#f38a2c"/>
<circle cx="464.32" cy="162.88" r="1.35" fill="#f38a2c"/>
<circle cx="469.88" cy="158.46" r="1.35" fill="#f38a2c"/>
<circle cx="475.44" cy="153.02" r="1.35" fill="#f38a2c"/>
<circle cx="481.00" cy="145.54" r="1.35" fill="#f38a2c"/>
<circle cx="486.56" cy="139.08" r="1.35" fill="#f38a2c"/>
<circle cx="492.11" cy="133.64" r="1.35" fill="#f38a2c"/>
<circle cx="497.67" cy="129.22" r="1.35" fill="#f38a2c"/>
<circle cx="503.23" cy="123.78" r="1.35" fill="#f38a2c"/>
<circle cx="508.79" cy="118.34" r="1.35" fill="#f38a2c"/>
<circle cx="514.35" cy="111.54" r="1.35" fill="#f38a2c"/>
<circle cx="519.90" cy="104.74" r="1.35" fill="#f38a2c"/>
<circle cx="525.46" cy="98.62" r="1.35" fill="#f38a2c"/>
<circle cx="531.02" cy="93.86" r="1.35" fill="#f38a2c"/>
<path d="M349.50,22.38 L350.82,24.89 L348.18,24.89Z" fill="#6b9b2c"/>
<text x="354.20" y="26.85" font-size="8.2" fill="#363636" textLength="39.7" lengthAdjust="spacingAndGlyphs">Puerto Rico</text>
<path d="M348.42,36.02 L350.58,38.18 M350.58,36.02 L348.42,38.18" stroke="#c4c4c4" stroke-width="0.85" fill="none"/>
<text x="354.20" y="40.05" font-size="8.2" fill="#363636" textLength="24.0" lengthAdjust="spacingAndGlyphs">Tunisia</text>
<path d="M348.42,49.22 L350.58,51.38 M350.58,49.22 L348.42,51.38" stroke="#62bccf" stroke-width="0.85" fill="none"/>
<text x="354.20" y="53.25" font-size="8.2" fill="#363636" textLength="23.0" lengthAdjust="spacingAndGlyphs">Turkey</text>
<circle cx="349.50" cy="63.50" r="1.2" fill="#f38a2c"/>
<text x="354.20" y="66.45" font-size="8.2" fill="#363636" textLength="45.8" lengthAdjust="spacingAndGlyphs">United States</text>
<text x="510.00" y="29.60" text-anchor="middle" font-size="10" fill="#333" textLength="12" lengthAdjust="spacingAndGlyphs">(b)</text>
<text x="419.86" y="246.80" text-anchor="middle" font-size="8.8" fill="#363636" textLength="16.2" lengthAdjust="spacingAndGlyphs">Days</text>
<text transform="translate(288.40,119.00) rotate(-90)" x="0" y="0" text-anchor="middle" font-size="7.8" fill="#363636" textLength="55" lengthAdjust="spacingAndGlyphs" dominant-baseline="central">3DMA CFRs&#160;&#160;(%)</text>
<polyline points="40.3,443.1 41.7,443.6 43.1,443.9 44.5,444.1 45.9,444.3 47.2,444.3 48.6,444.2 50.0,444.0 51.4,443.6 52.8,443.2 54.2,442.7 55.6,442.1 57.0,441.4 58.4,440.5 59.8,439.6 61.1,438.6 62.5,437.5 63.9,436.4 65.3,435.1 66.7,433.8 68.1,432.4 69.5,430.9 70.9,429.4 72.3,427.8 73.7,426.2 75.0,424.5 76.4,422.7 77.8,420.9 79.2,419.0 80.6,417.1 82.0,415.2 83.4,413.3 84.8,411.3 86.2,409.3 87.6,407.2 88.9,405.2 90.3,403.1 91.7,401.1 93.1,399.0 94.5,396.9 95.9,394.9 97.3,392.8 98.7,390.8 100.1,388.7 101.5,386.7 102.8,384.7 104.2,382.7 105.6,380.8 107.0,378.9 108.4,377.0 109.8,375.1 111.2,373.3 112.6,371.5 114.0,369.8 115.4,368.1 116.7,366.4 118.1,364.8 119.5,363.3 120.9,361.8 122.3,360.3 123.7,358.9 125.1,357.6 126.5,356.3 127.9,355.1 129.3,353.9 130.6,352.8 132.0,351.8 133.4,350.8 134.8,349.9 136.2,349.0 137.6,348.2 139.0,347.5 140.4,346.8 141.8,346.2 143.2,345.6 144.5,345.1 145.9,344.7 147.3,344.3 148.7,344.0 150.1,343.7 151.5,343.5 152.9,343.4 154.3,343.2 155.7,343.2 157.1,343.2 158.4,343.2 159.8,343.3 161.2,343.4 162.6,343.5 164.0,343.7 165.4,344.0 166.8,344.2 168.2,344.5 169.6,344.8 171.0,345.2 172.3,345.5 173.7,345.9 175.1,346.3 176.5,346.7 177.9,347.2 179.3,347.6 180.7,348.1 182.1,348.5 183.5,349.0 184.9,349.4 186.2,349.8 187.6,350.3 189.0,350.7 190.4,351.1 191.8,351.5 193.2,351.9 194.6,352.2 196.0,352.6 197.4,352.9 198.8,353.2 200.1,353.4 201.5,353.7 202.9,353.8 204.3,354.0 205.7,354.1 207.1,354.2 208.5,354.2 209.9,354.2 211.3,354.2 212.7,354.1 214.1,354.0 215.4,353.9 216.8,353.7 218.2,353.5 219.6,353.2 221.0,352.9 222.4,352.5 223.8,352.2 225.2,351.7 226.6,351.3 227.9,350.8 229.3,350.4 230.7,349.9 232.1,349.3 233.5,348.8 234.9,348.3 236.3,347.8 237.7,347.2 239.1,346.7 240.5,346.2 241.8,345.8 243.2,345.3 244.6,345.0 246.0,344.6 247.4,344.4 248.8,344.2 250.2,344.1 251.6,344.1 253.0,344.2 254.4,344.4 255.8,344.8 257.1,345.3 258.5,346.0 259.9,346.9 261.3,348.0 262.7,349.3" fill="none" stroke="#858585" stroke-width="0.85"/>
<polyline points="40.3,472.7 41.7,472.7 43.1,472.5 44.5,472.2 45.9,471.9 47.2,471.4 48.6,470.9 50.0,470.2 51.4,469.5 52.8,468.7 54.2,467.8 55.6,466.8 57.0,465.8 58.4,464.6 59.8,463.4 61.1,462.2 62.5,460.8 63.9,459.4 65.3,458.0 66.7,456.5 68.1,454.9 69.5,453.3 70.9,451.7 72.3,450.0 73.7,448.2 75.0,446.5 76.4,444.7 77.8,442.8 79.2,440.9 80.6,439.0 82.0,437.1 83.4,435.2 84.8,433.2 86.2,431.2 87.6,429.2 88.9,427.2 90.3,425.2 91.7,423.2 93.1,421.1 94.5,419.1 95.9,417.1 97.3,415.0 98.7,413.0 100.1,411.0 101.5,408.9 102.8,406.9 104.2,404.9 105.6,403.0 107.0,401.0 108.4,399.0 109.8,397.1 111.2,395.2 112.6,393.3 114.0,391.4 115.4,389.6 116.7,387.7 118.1,385.9 119.5,384.1 120.9,382.4 122.3,380.7 123.7,379.0 125.1,377.3 126.5,375.7 127.9,374.1 129.3,372.5 130.6,371.0 132.0,369.5 133.4,368.0 134.8,366.5 136.2,365.1 137.6,363.8 139.0,362.4 140.4,361.1 141.8,359.8 143.2,358.6 144.5,357.4 145.9,356.2 147.3,355.0 148.7,353.9 150.1,352.8 151.5,351.8 152.9,350.8 154.3,349.8 155.7,348.8 157.1,347.9 158.4,347.0 159.8,346.1 161.2,345.2 162.6,344.4 164.0,343.6 165.4,342.8 166.8,342.1 168.2,341.3 169.6,340.6 171.0,339.9 172.3,339.3 173.7,338.6 175.1,338.0 176.5,337.3 177.9,336.7 179.3,336.1 180.7,335.5 182.1,335.0 183.5,334.4 184.9,333.9 186.2,333.3 187.6,332.8 189.0,332.3 190.4,331.7 191.8,331.2 193.2,330.7 194.6,330.2 196.0,329.7 197.4,329.2 198.8,328.7 200.1,328.1 201.5,327.6 202.9,327.1 204.3,326.6 205.7,326.1 207.1,325.6 208.5,325.0 209.9,324.5 211.3,324.0 212.7,323.5 214.1,322.9 215.4,322.4 216.8,321.8 218.2,321.3 219.6,320.7 221.0,320.2 222.4,319.6 223.8,319.1 225.2,318.5 226.6,318.0 227.9,317.5 229.3,316.9 230.7,316.4 232.1,315.9 233.5,315.4 234.9,314.9 236.3,314.4 237.7,313.9 239.1,313.5 240.5,313.1 241.8,312.7 243.2,312.4 244.6,312.0 246.0,311.8 247.4,311.5 248.8,311.3 250.2,311.2 251.6,311.1 253.0,311.1 254.4,311.2 255.8,311.3 257.1,311.5 258.5,311.8 259.9,312.2 261.3,312.7 262.7,313.3" fill="none" stroke="#858585" stroke-width="0.85"/>
<polyline points="40.3,437.6 41.7,442.0 43.1,445.8 44.5,449.1 45.9,452.0 47.2,454.3 48.6,456.3 50.0,457.9 51.4,459.2 52.8,460.2 54.2,460.8 55.6,461.3 57.0,461.4 58.4,461.4 59.8,461.2 61.1,460.8 62.5,460.3 63.9,459.7 65.3,458.9 66.7,458.1 68.1,457.1 69.5,456.1 70.9,455.1 72.3,454.0 73.7,452.9 75.0,451.8 76.4,450.7 77.8,449.6 79.2,448.5 80.6,447.4 82.0,446.3 83.4,445.3 84.8,444.3 86.2,443.4 87.6,442.5 88.9,441.6 90.3,440.8 91.7,440.0 93.1,439.3 94.5,438.7 95.9,438.1 97.3,437.6 98.7,437.1 100.1,436.7 101.5,436.4 102.8,436.1 104.2,435.8 105.6,435.7 107.0,435.5 108.4,435.4 109.8,435.4 111.2,435.4 112.6,435.4 114.0,435.5 115.4,435.6 116.7,435.8 118.1,436.0 119.5,436.2 120.9,436.4 122.3,436.6 123.7,436.9 125.1,437.2 126.5,437.4 127.9,437.7 129.3,438.0 130.6,438.3 132.0,438.5 133.4,438.8 134.8,439.1 136.2,439.3 137.6,439.5 139.0,439.7 140.4,439.9 141.8,440.0 143.2,440.1 144.5,440.2 145.9,440.2 147.3,440.2 148.7,440.2 150.1,440.1 151.5,440.0 152.9,439.8 154.3,439.6 155.7,439.3 157.1,439.0 158.4,438.7 159.8,438.2 161.2,437.8 162.6,437.2 164.0,436.7 165.4,436.0 166.8,435.4 168.2,434.6 169.6,433.8 171.0,433.0 172.3,432.1 173.7,431.2 175.1,430.2 176.5,429.1 177.9,428.1 179.3,426.9 180.7,425.8 182.1,424.5 183.5,423.3 184.9,422.0 186.2,420.7 187.6,419.3 189.0,417.9 190.4,416.5 191.8,415.0 193.2,413.6 194.6,412.1 196.0,410.6 197.4,409.0 198.8,407.5 200.1,405.9 201.5,404.3 202.9,402.8 204.3,401.2 205.7,399.6 207.1,398.0 208.5,396.4 209.9,394.8 211.3,393.2 212.7,391.7 214.1,390.1 215.4,388.5 216.8,387.0 218.2,385.5 219.6,383.9 221.0,382.4 222.4,380.9 223.8,379.4 225.2,377.9 226.6,376.4 227.9,375.0 229.3,373.5 230.7,372.0 232.1,370.5 233.5,369.1 234.9,367.6 236.3,366.1 237.7,364.6 239.1,363.0 240.5,361.4 241.8,359.8 243.2,358.1 244.6,356.4 246.0,354.6 247.4,352.7 248.8,350.7 250.2,348.7 251.6,346.5 253.0,344.2 254.4,341.7 255.8,339.1 257.1,336.3 258.5,333.3 259.9,330.1 261.3,326.7 262.7,323.0" fill="none" stroke="#858585" stroke-width="0.85"/>
<polyline points="40.3,443.7 41.7,444.3 43.1,444.8 44.5,445.3 45.9,445.6 47.2,445.9 48.6,446.0 50.0,446.1 51.4,446.2 52.8,446.1 54.2,446.0 55.6,445.9 57.0,445.6 58.4,445.3 59.8,445.0 61.1,444.6 62.5,444.2 63.9,443.7 65.3,443.2 66.7,442.6 68.1,442.0 69.5,441.3 70.9,440.6 72.3,439.9 73.7,439.2 75.0,438.4 76.4,437.6 77.8,436.7 79.2,435.8 80.6,434.9 82.0,434.0 83.4,433.0 84.8,432.0 86.2,431.0 87.6,430.0 88.9,428.9 90.3,427.8 91.7,426.7 93.1,425.6 94.5,424.4 95.9,423.3 97.3,422.1 98.7,420.8 100.1,419.6 101.5,418.3 102.8,417.0 104.2,415.7 105.6,414.4 107.0,413.0 108.4,411.7 109.8,410.3 111.2,408.9 112.6,407.4 114.0,406.0 115.4,404.5 116.7,403.0 118.1,401.5 119.5,400.0 120.9,398.5 122.3,396.9 123.7,395.3 125.1,393.8 126.5,392.2 127.9,390.6 129.3,388.9 130.6,387.3 132.0,385.7 133.4,384.0 134.8,382.3 136.2,380.7 137.6,379.0 139.0,377.3 140.4,375.6 141.8,373.9 143.2,372.2 144.5,370.5 145.9,368.8 147.3,367.2 148.7,365.5 150.1,363.8 151.5,362.1 152.9,360.4 154.3,358.7 155.7,357.1 157.1,355.4 158.4,353.8 159.8,352.2 161.2,350.6 162.6,349.0 164.0,347.4 165.4,345.9 166.8,344.3 168.2,342.8 169.6,341.3 171.0,339.9 172.3,338.5 173.7,337.1 175.1,335.7 176.5,334.4 177.9,333.1 179.3,331.9 180.7,330.6 182.1,329.5 183.5,328.3 184.9,327.3 186.2,326.2 187.6,325.2 189.0,324.3 190.4,323.4 191.8,322.5 193.2,321.7 194.6,321.0 196.0,320.3 197.4,319.6 198.8,319.0 200.1,318.5 201.5,318.0 202.9,317.6 204.3,317.2 205.7,316.9 207.1,316.6 208.5,316.4 209.9,316.2 211.3,316.1 212.7,316.1 214.1,316.1 215.4,316.1 216.8,316.2 218.2,316.4 219.6,316.6 221.0,316.8 222.4,317.1 223.8,317.4 225.2,317.8 226.6,318.2 227.9,318.6 229.3,319.0 230.7,319.5 232.1,320.0 233.5,320.5 234.9,321.0 236.3,321.5 237.7,322.0 239.1,322.5 240.5,323.0 241.8,323.5 243.2,323.9 244.6,324.3 246.0,324.7 247.4,325.0 248.8,325.3 250.2,325.5 251.6,325.6 253.0,325.6 254.4,325.5 255.8,325.3 257.1,325.0 258.5,324.5 259.9,323.9 261.3,323.2 262.7,322.3" fill="none" stroke="#858585" stroke-width="0.85"/>
<rect x="38.90" y="439.54" width="2.80" height="2.80" rx="0.63" fill="#b81c2a"/>
<rect x="44.46" y="442.62" width="2.80" height="2.80" rx="0.63" fill="#b81c2a"/>
<rect x="50.02" y="446.39" width="2.80" height="2.80" rx="0.63" fill="#b81c2a"/>
<rect x="55.58" y="445.02" width="2.80" height="2.80" rx="0.63" fill="#b81c2a"/>
<rect x="61.14" y="434.41" width="2.80" height="2.80" rx="0.63" fill="#b81c2a"/>
<rect x="66.70" y="426.88" width="2.80" height="2.80" rx="0.63" fill="#b81c2a"/>
<rect x="72.26" y="421.06" width="2.80" height="2.80" rx="0.63" fill="#b81c2a"/>
<rect x="77.82" y="415.93" width="2.80" height="2.80" rx="0.63" fill="#b81c2a"/>
<rect x="83.38" y="411.14" width="2.80" height="2.80" rx="0.63" fill="#b81c2a"/>
<rect x="88.94" y="401.56" width="2.80" height="2.80" rx="0.63" fill="#b81c2a"/>
<rect x="94.50" y="393.69" width="2.80" height="2.80" rx="0.63" fill="#b81c2a"/>
<rect x="100.06" y="382.74" width="2.80" height="2.80" rx="0.63" fill="#b81c2a"/>
<rect x="105.62" y="376.58" width="2.80" height="2.80" rx="0.63" fill="#b81c2a"/>
<rect x="111.18" y="374.52" width="2.80" height="2.80" rx="0.63" fill="#b81c2a"/>
<rect x="116.74" y="369.05" width="2.80" height="2.80" rx="0.63" fill="#b81c2a"/>
<rect x="122.30" y="367.68" width="2.80" height="2.80" rx="0.63" fill="#b81c2a"/>
<rect x="127.86" y="356.39" width="2.80" height="2.80" rx="0.63" fill="#b81c2a"/>
<rect x="133.42" y="347.83" width="2.80" height="2.80" rx="0.63" fill="#b81c2a"/>
<rect x="138.98" y="334.83" width="2.80" height="2.80" rx="0.63" fill="#b81c2a"/>
<rect x="144.54" y="333.80" width="2.80" height="2.80" rx="0.63" fill="#b81c2a"/>
<rect x="150.10" y="333.80" width="2.80" height="2.80" rx="0.63" fill="#b81c2a"/>
<rect x="155.66" y="338.25" width="2.80" height="2.80" rx="0.63" fill="#b81c2a"/>
<rect x="161.22" y="343.04" width="2.80" height="2.80" rx="0.63" fill="#b81c2a"/>
<rect x="166.78" y="347.49" width="2.80" height="2.80" rx="0.63" fill="#b81c2a"/>
<rect x="172.34" y="349.89" width="2.80" height="2.80" rx="0.63" fill="#b81c2a"/>
<rect x="177.90" y="350.91" width="2.80" height="2.80" rx="0.63" fill="#b81c2a"/>
<rect x="183.46" y="351.60" width="2.80" height="2.80" rx="0.63" fill="#b81c2a"/>
<rect x="189.02" y="352.28" width="2.80" height="2.80" rx="0.63" fill="#b81c2a"/>
<rect x="194.58" y="352.62" width="2.80" height="2.80" rx="0.63" fill="#b81c2a"/>
<rect x="200.14" y="352.62" width="2.80" height="2.80" rx="0.63" fill="#b81c2a"/>
<rect x="205.70" y="351.25" width="2.80" height="2.80" rx="0.63" fill="#b81c2a"/>
<rect x="211.26" y="350.23" width="2.80" height="2.80" rx="0.63" fill="#b81c2a"/>
<rect x="216.82" y="347.49" width="2.80" height="2.80" rx="0.63" fill="#b81c2a"/>
<rect x="222.38" y="347.49" width="2.80" height="2.80" rx="0.63" fill="#b81c2a"/>
<rect x="227.94" y="347.15" width="2.80" height="2.80" rx="0.63" fill="#b81c2a"/>
<rect x="233.50" y="347.15" width="2.80" height="2.80" rx="0.63" fill="#b81c2a"/>
<rect x="239.06" y="346.81" width="2.80" height="2.80" rx="0.63" fill="#b81c2a"/>
<rect x="244.62" y="346.12" width="2.80" height="2.80" rx="0.63" fill="#b81c2a"/>
<rect x="250.18" y="344.75" width="2.80" height="2.80" rx="0.63" fill="#b81c2a"/>
<rect x="255.74" y="345.44" width="2.80" height="2.80" rx="0.63" fill="#b81c2a"/>
<rect x="261.30" y="344.75" width="2.80" height="2.80" rx="0.63" fill="#b81c2a"/>
<path d="M40.30,472.90 L41.67,475.51 L38.92,475.51Z" fill="#6b9b2c"/>
<path d="M45.86,469.82 L47.23,472.43 L44.48,472.43Z" fill="#6b9b2c"/>
<path d="M51.42,466.74 L52.79,469.35 L50.04,469.35Z" fill="#6b9b2c"/>
<path d="M56.98,462.29 L58.35,464.90 L55.60,464.90Z" fill="#6b9b2c"/>
<path d="M62.54,458.52 L63.91,461.14 L61.16,461.14Z" fill="#6b9b2c"/>
<path d="M68.10,451.68 L69.47,454.29 L66.72,454.29Z" fill="#6b9b2c"/>
<path d="M73.66,446.21 L75.03,448.82 L72.28,448.82Z" fill="#6b9b2c"/>
<path d="M79.22,444.49 L80.59,447.11 L77.84,447.11Z" fill="#6b9b2c"/>
<path d="M84.78,435.94 L86.16,438.55 L83.41,438.55Z" fill="#6b9b2c"/>
<path d="M90.34,424.30 L91.72,426.92 L88.97,426.92Z" fill="#6b9b2c"/>
<path d="M95.90,412.67 L97.27,415.28 L94.52,415.28Z" fill="#6b9b2c"/>
<path d="M101.46,406.51 L102.83,409.12 L100.08,409.12Z" fill="#6b9b2c"/>
<path d="M107.02,400.35 L108.39,402.96 L105.64,402.96Z" fill="#6b9b2c"/>
<path d="M112.58,389.74 L113.95,392.35 L111.20,392.35Z" fill="#6b9b2c"/>
<path d="M118.14,380.16 L119.51,382.77 L116.76,382.77Z" fill="#6b9b2c"/>
<path d="M123.70,375.37 L125.07,377.98 L122.32,377.98Z" fill="#6b9b2c"/>
<path d="M129.26,372.97 L130.63,375.59 L127.88,375.59Z" fill="#6b9b2c"/>
<path d="M134.82,368.87 L136.19,371.48 L133.44,371.48Z" fill="#6b9b2c"/>
<path d="M140.38,361.34 L141.75,363.95 L139.00,363.95Z" fill="#6b9b2c"/>
<path d="M145.94,355.18 L147.31,357.79 L144.56,357.79Z" fill="#6b9b2c"/>
<path d="M151.50,348.34 L152.88,350.95 L150.12,350.95Z" fill="#6b9b2c"/>
<path d="M157.06,343.20 L158.44,345.82 L155.69,345.82Z" fill="#6b9b2c"/>
<path d="M162.62,339.44 L164.00,342.05 L161.25,342.05Z" fill="#6b9b2c"/>
<path d="M168.18,340.81 L169.56,343.42 L166.81,343.42Z" fill="#6b9b2c"/>
<path d="M173.74,339.44 L175.12,342.05 L172.37,342.05Z" fill="#6b9b2c"/>
<path d="M179.30,336.70 L180.68,339.31 L177.93,339.31Z" fill="#6b9b2c"/>
<path d="M184.86,334.65 L186.24,337.26 L183.49,337.26Z" fill="#6b9b2c"/>
<path d="M190.42,330.88 L191.79,333.50 L189.04,333.50Z" fill="#6b9b2c"/>
<path d="M195.98,328.49 L197.35,331.10 L194.60,331.10Z" fill="#6b9b2c"/>
<path d="M201.54,325.41 L202.91,328.02 L200.16,328.02Z" fill="#6b9b2c"/>
<path d="M207.10,322.67 L208.47,325.28 L205.72,325.28Z" fill="#6b9b2c"/>
<path d="M212.66,320.62 L214.03,323.23 L211.28,323.23Z" fill="#6b9b2c"/>
<path d="M218.22,318.22 L219.59,320.83 L216.84,320.83Z" fill="#6b9b2c"/>
<path d="M223.78,316.51 L225.15,319.12 L222.40,319.12Z" fill="#6b9b2c"/>
<path d="M229.34,314.80 L230.71,317.41 L227.96,317.41Z" fill="#6b9b2c"/>
<path d="M234.90,313.77 L236.27,316.39 L233.52,316.39Z" fill="#6b9b2c"/>
<path d="M240.46,312.06 L241.83,314.68 L239.08,314.68Z" fill="#6b9b2c"/>
<path d="M246.02,311.38 L247.39,313.99 L244.64,313.99Z" fill="#6b9b2c"/>
<path d="M251.58,310.69 L252.95,313.31 L250.20,313.31Z" fill="#6b9b2c"/>
<path d="M257.14,310.69 L258.51,313.31 L255.76,313.31Z" fill="#6b9b2c"/>
<path d="M262.70,310.01 L264.07,312.62 L261.32,312.62Z" fill="#6b9b2c"/>
<path d="M39.13,442.51 L41.47,444.85 M41.47,442.51 L39.13,444.85" stroke="#c4c4c4" stroke-width="0.85" fill="none"/>
<path d="M44.69,444.22 L47.03,446.56 M47.03,444.22 L44.69,446.56" stroke="#c4c4c4" stroke-width="0.85" fill="none"/>
<path d="M50.25,450.72 L52.59,453.06 M52.59,450.72 L50.25,453.06" stroke="#c4c4c4" stroke-width="0.85" fill="none"/>
<path d="M55.81,459.62 L58.15,461.96 M58.15,459.62 L55.81,461.96" stroke="#c4c4c4" stroke-width="0.85" fill="none"/>
<path d="M61.37,463.04 L63.71,465.38 M63.71,463.04 L61.37,465.38" stroke="#c4c4c4" stroke-width="0.85" fill="none"/>
<path d="M66.93,466.81 L69.27,469.15 M69.27,466.81 L66.93,469.15" stroke="#c4c4c4" stroke-width="0.85" fill="none"/>
<path d="M72.49,452.78 L74.83,455.12 M74.83,452.78 L72.49,455.12" stroke="#c4c4c4" stroke-width="0.85" fill="none"/>
<path d="M78.05,447.64 L80.39,449.98 M80.39,447.64 L78.05,449.98" stroke="#c4c4c4" stroke-width="0.85" fill="none"/>
<path d="M83.61,440.80 L85.95,443.14 M85.95,440.80 L83.61,443.14" stroke="#c4c4c4" stroke-width="0.85" fill="none"/>
<path d="M89.17,436.69 L91.51,439.03 M91.51,436.69 L89.17,439.03" stroke="#c4c4c4" stroke-width="0.85" fill="none"/>
<path d="M94.73,436.69 L97.07,439.03 M97.07,436.69 L94.73,439.03" stroke="#c4c4c4" stroke-width="0.85" fill="none"/>
<path d="M100.29,432.93 L102.63,435.27 M102.63,432.93 L100.29,435.27" stroke="#c4c4c4" stroke-width="0.85" fill="none"/>
<path d="M105.85,430.88 L108.19,433.22 M108.19,430.88 L105.85,433.22" stroke="#c4c4c4" stroke-width="0.85" fill="none"/>
<path d="M111.41,428.48 L113.75,430.82 M113.75,428.48 L111.41,430.82" stroke="#c4c4c4" stroke-width="0.85" fill="none"/>
<path d="M116.97,433.27 L119.31,435.61 M119.31,433.27 L116.97,435.61" stroke="#c4c4c4" stroke-width="0.85" fill="none"/>
<path d="M122.53,438.40 L124.87,440.74 M124.87,438.40 L122.53,440.74" stroke="#c4c4c4" stroke-width="0.85" fill="none"/>
<path d="M128.09,443.88 L130.43,446.22 M130.43,443.88 L128.09,446.22" stroke="#c4c4c4" stroke-width="0.85" fill="none"/>
<path d="M133.65,441.83 L135.99,444.17 M135.99,441.83 L133.65,444.17" stroke="#c4c4c4" stroke-width="0.85" fill="none"/>
<path d="M139.21,439.43 L141.55,441.77 M141.55,439.43 L139.21,441.77" stroke="#c4c4c4" stroke-width="0.85" fill="none"/>
<path d="M144.77,439.43 L147.11,441.77 M147.11,439.43 L144.77,441.77" stroke="#c4c4c4" stroke-width="0.85" fill="none"/>
<path d="M150.33,439.43 L152.67,441.77 M152.67,439.43 L150.33,441.77" stroke="#c4c4c4" stroke-width="0.85" fill="none"/>
<path d="M155.89,438.40 L158.23,440.74 M158.23,438.40 L155.89,440.74" stroke="#c4c4c4" stroke-width="0.85" fill="none"/>
<path d="M161.45,435.67 L163.79,438.01 M163.79,435.67 L161.45,438.01" stroke="#c4c4c4" stroke-width="0.85" fill="none"/>
<path d="M167.01,432.24 L169.35,434.58 M169.35,432.24 L167.01,434.58" stroke="#c4c4c4" stroke-width="0.85" fill="none"/>
<path d="M172.57,429.16 L174.91,431.50 M174.91,429.16 L172.57,431.50" stroke="#c4c4c4" stroke-width="0.85" fill="none"/>
<path d="M178.13,424.72 L180.47,427.06 M180.47,424.72 L178.13,427.06" stroke="#c4c4c4" stroke-width="0.85" fill="none"/>
<path d="M183.69,417.87 L186.03,420.21 M186.03,417.87 L183.69,420.21" stroke="#c4c4c4" stroke-width="0.85" fill="none"/>
<path d="M189.25,414.11 L191.59,416.45 M191.59,414.11 L189.25,416.45" stroke="#c4c4c4" stroke-width="0.85" fill="none"/>
<path d="M194.81,407.95 L197.15,410.29 M197.15,407.95 L194.81,410.29" stroke="#c4c4c4" stroke-width="0.85" fill="none"/>
<path d="M200.37,403.16 L202.71,405.50 M202.71,403.16 L200.37,405.50" stroke="#c4c4c4" stroke-width="0.85" fill="none"/>
<path d="M205.93,396.66 L208.27,399.00 M208.27,396.66 L205.93,399.00" stroke="#c4c4c4" stroke-width="0.85" fill="none"/>
<path d="M211.49,391.18 L213.83,393.52 M213.83,391.18 L211.49,393.52" stroke="#c4c4c4" stroke-width="0.85" fill="none"/>
<path d="M217.05,385.70 L219.39,388.04 M219.39,385.70 L217.05,388.04" stroke="#c4c4c4" stroke-width="0.85" fill="none"/>
<path d="M222.61,380.57 L224.95,382.91 M224.95,380.57 L222.61,382.91" stroke="#c4c4c4" stroke-width="0.85" fill="none"/>
<path d="M228.17,375.10 L230.51,377.44 M230.51,375.10 L228.17,377.44" stroke="#c4c4c4" stroke-width="0.85" fill="none"/>
<path d="M233.73,368.25 L236.07,370.59 M236.07,368.25 L233.73,370.59" stroke="#c4c4c4" stroke-width="0.85" fill="none"/>
<path d="M239.29,360.72 L241.63,363.06 M241.63,360.72 L239.29,363.06" stroke="#c4c4c4" stroke-width="0.85" fill="none"/>
<path d="M244.85,350.12 L247.19,352.46 M247.19,350.12 L244.85,352.46" stroke="#c4c4c4" stroke-width="0.85" fill="none"/>
<path d="M250.41,342.25 L252.75,344.59 M252.75,342.25 L250.41,344.59" stroke="#c4c4c4" stroke-width="0.85" fill="none"/>
<path d="M255.97,332.32 L258.31,334.66 M258.31,332.32 L255.97,334.66" stroke="#c4c4c4" stroke-width="0.85" fill="none"/>
<path d="M261.53,325.82 L263.87,328.16 M263.87,325.82 L261.53,328.16" stroke="#c4c4c4" stroke-width="0.85" fill="none"/>
<circle cx="40.30" cy="443.68" r="1.35" fill="#f38a2c"/>
<circle cx="45.86" cy="444.36" r="1.35" fill="#f38a2c"/>
<circle cx="51.42" cy="446.42" r="1.35" fill="#f38a2c"/>
<circle cx="56.98" cy="447.10" r="1.35" fill="#f38a2c"/>
<circle cx="62.54" cy="444.71" r="1.35" fill="#f38a2c"/>
<circle cx="68.10" cy="441.97" r="1.35" fill="#f38a2c"/>
<circle cx="73.66" cy="439.92" r="1.35" fill="#f38a2c"/>
<circle cx="79.22" cy="437.86" r="1.35" fill="#f38a2c"/>
<circle cx="84.78" cy="430.68" r="1.35" fill="#f38a2c"/>
<circle cx="90.34" cy="421.78" r="1.35" fill="#f38a2c"/>
<circle cx="95.90" cy="420.07" r="1.35" fill="#f38a2c"/>
<circle cx="101.46" cy="421.09" r="1.35" fill="#f38a2c"/>
<circle cx="107.02" cy="418.70" r="1.35" fill="#f38a2c"/>
<circle cx="112.58" cy="410.49" r="1.35" fill="#f38a2c"/>
<circle cx="118.14" cy="398.51" r="1.35" fill="#f38a2c"/>
<circle cx="123.70" cy="392.01" r="1.35" fill="#f38a2c"/>
<circle cx="129.26" cy="385.85" r="1.35" fill="#f38a2c"/>
<circle cx="134.82" cy="382.08" r="1.35" fill="#f38a2c"/>
<circle cx="140.38" cy="379.69" r="1.35" fill="#f38a2c"/>
<circle cx="145.94" cy="374.90" r="1.35" fill="#f38a2c"/>
<circle cx="151.50" cy="363.26" r="1.35" fill="#f38a2c"/>
<circle cx="157.06" cy="354.37" r="1.35" fill="#f38a2c"/>
<circle cx="162.62" cy="346.15" r="1.35" fill="#f38a2c"/>
<circle cx="168.18" cy="339.65" r="1.35" fill="#f38a2c"/>
<circle cx="173.74" cy="336.23" r="1.35" fill="#f38a2c"/>
<circle cx="179.30" cy="330.75" r="1.35" fill="#f38a2c"/>
<circle cx="184.86" cy="328.02" r="1.35" fill="#f38a2c"/>
<circle cx="190.42" cy="323.91" r="1.35" fill="#f38a2c"/>
<circle cx="195.98" cy="321.17" r="1.35" fill="#f38a2c"/>
<circle cx="201.54" cy="317.75" r="1.35" fill="#f38a2c"/>
<circle cx="207.10" cy="316.38" r="1.35" fill="#f38a2c"/>
<circle cx="212.66" cy="316.04" r="1.35" fill="#f38a2c"/>
<circle cx="218.22" cy="316.72" r="1.35" fill="#f38a2c"/>
<circle cx="223.78" cy="318.09" r="1.35" fill="#f38a2c"/>
<circle cx="229.34" cy="319.80" r="1.35" fill="#f38a2c"/>
<circle cx="234.90" cy="322.20" r="1.35" fill="#f38a2c"/>
<circle cx="240.46" cy="323.23" r="1.35" fill="#f38a2c"/>
<circle cx="246.02" cy="323.57" r="1.35" fill="#f38a2c"/>
<circle cx="251.58" cy="323.91" r="1.35" fill="#f38a2c"/>
<circle cx="257.14" cy="323.57" r="1.35" fill="#f38a2c"/>
<circle cx="262.70" cy="324.25" r="1.35" fill="#f38a2c"/>
<rect x="71.00" y="278.40" width="2.40" height="2.40" rx="0.54" fill="#b81c2a"/>
<text x="76.90" y="282.55" font-size="8.2" fill="#363636" textLength="82.7" lengthAdjust="spacingAndGlyphs">Bosnia and Herzegovina</text>
<path d="M72.20,291.38 L73.52,293.89 L70.88,293.89Z" fill="#6b9b2c"/>
<text x="76.90" y="295.85" font-size="8.2" fill="#363636" textLength="31.3" lengthAdjust="spacingAndGlyphs">Denmark</text>
<path d="M71.12,305.12 L73.28,307.28 M73.28,305.12 L71.12,307.28" stroke="#c4c4c4" stroke-width="0.85" fill="none"/>
<text x="76.90" y="309.15" font-size="8.2" fill="#363636" textLength="25.5" lengthAdjust="spacingAndGlyphs">Canada</text>
<circle cx="72.20" cy="319.50" r="1.2" fill="#f38a2c"/>
<text x="76.90" y="322.45" font-size="8.2" fill="#363636" textLength="32.7" lengthAdjust="spacingAndGlyphs">Columbia</text>
<text x="240.20" y="286.20" text-anchor="middle" font-size="10" fill="#333" textLength="12" lengthAdjust="spacingAndGlyphs">(c)</text>
<text x="151.50" y="503.00" text-anchor="middle" font-size="8.8" fill="#363636" textLength="16.2" lengthAdjust="spacingAndGlyphs">Days</text>
<text transform="translate(19.80,375.00) rotate(-90)" x="0" y="0" text-anchor="middle" font-size="7.8" fill="#363636" textLength="55" lengthAdjust="spacingAndGlyphs" dominant-baseline="central">3DMA CFRs&#160;&#160;(%)</text>
<polyline points="312.7,453.0 314.1,453.6 315.4,454.1 316.8,454.7 318.2,455.2 319.5,455.8 320.9,456.4 322.3,457.0 323.6,457.5 325.0,458.1 326.4,458.7 327.7,459.2 329.1,459.8 330.5,460.4 331.8,460.9 333.2,461.4 334.6,462.0 335.9,462.5 337.3,463.0 338.7,463.5 340.1,464.0 341.4,464.5 342.8,465.0 344.2,465.4 345.5,465.9 346.9,466.3 348.3,466.7 349.6,467.2 351.0,467.6 352.4,467.9 353.7,468.3 355.1,468.7 356.5,469.0 357.8,469.4 359.2,469.7 360.6,470.0 361.9,470.3 363.3,470.6 364.7,470.9 366.0,471.1 367.4,471.4 368.8,471.6 370.1,471.8 371.5,472.0 372.9,472.2 374.2,472.4 375.6,472.6 377.0,472.7 378.3,472.9 379.7,473.0 381.1,473.2 382.4,473.3 383.8,473.4 385.2,473.5 386.5,473.6 387.9,473.7 389.3,473.8 390.6,473.8 392.0,473.9 393.4,473.9 394.8,474.0 396.1,474.0 397.5,474.0 398.9,474.1 400.2,474.1 401.6,474.1 403.0,474.1 404.3,474.1 405.7,474.1 407.1,474.0 408.4,474.0 409.8,474.0 411.2,474.0 412.5,473.9 413.9,473.9 415.3,473.9 416.6,473.8 418.0,473.8 419.4,473.7 420.7,473.7 422.1,473.6 423.5,473.6 424.8,473.5 426.2,473.4 427.6,473.4 428.9,473.3 430.3,473.2 431.7,473.2 433.0,473.1 434.4,473.0 435.8,472.9 437.1,472.9 438.5,472.8 439.9,472.7 441.2,472.6 442.6,472.6 444.0,472.5 445.3,472.4 446.7,472.3 448.1,472.2 449.4,472.2 450.8,472.1 452.2,472.0 453.6,471.9 454.9,471.8 456.3,471.7 457.7,471.6 459.0,471.6 460.4,471.5 461.8,471.4 463.1,471.3 464.5,471.2 465.9,471.1 467.2,471.0 468.6,470.9 470.0,470.8 471.3,470.7 472.7,470.6 474.1,470.5 475.4,470.5 476.8,470.4 478.2,470.3 479.5,470.2 480.9,470.1 482.3,469.9 483.6,469.8 485.0,469.7 486.4,469.6 487.7,469.5 489.1,469.4 490.5,469.3 491.8,469.2 493.2,469.1 494.6,469.0 495.9,468.9 497.3,468.8 498.7,468.7 500.0,468.5 501.4,468.4 502.8,468.3 504.1,468.2 505.5,468.1 506.9,468.0 508.3,467.9 509.6,467.8 511.0,467.7 512.4,467.6 513.7,467.5 515.1,467.4 516.5,467.3 517.8,467.2 519.2,467.2 520.6,467.1 521.9,467.0 523.3,467.0 524.7,466.9 526.0,466.9 527.4,466.9 528.8,466.9 530.1,466.9 531.5,466.9" fill="none" stroke="#858585" stroke-width="0.85" clip-path="url(#cd)"/>
<polyline points="312.7,454.1 314.1,455.0 315.4,455.8 316.8,456.7 318.2,457.5 319.5,458.3 320.9,459.1 322.3,459.9 323.6,460.6 325.0,461.4 326.4,462.1 327.7,462.8 329.1,463.5 330.5,464.1 331.8,464.8 333.2,465.4 334.6,466.0 335.9,466.5 337.3,467.1 338.7,467.6 340.1,468.1 341.4,468.6 342.8,469.0 344.2,469.5 345.5,469.9 346.9,470.2 348.3,470.6 349.6,471.0 351.0,471.3 352.4,471.6 353.7,471.8 355.1,472.1 356.5,472.3 357.8,472.5 359.2,472.7 360.6,472.9 361.9,473.1 363.3,473.2 364.7,473.3 366.0,473.5 367.4,473.6 368.8,473.6 370.1,473.7 371.5,473.8 372.9,473.8 374.2,473.8 375.6,473.8 377.0,473.8 378.3,473.8 379.7,473.8 381.1,473.8 382.4,473.8 383.8,473.7 385.2,473.7 386.5,473.7 387.9,473.6 389.3,473.5 390.6,473.5 392.0,473.4 393.4,473.3 394.8,473.3 396.1,473.2 397.5,473.1 398.9,473.0 400.2,473.0 401.6,472.9 403.0,472.8 404.3,472.7 405.7,472.6 407.1,472.6 408.4,472.5 409.8,472.4 411.2,472.4 412.5,472.3 413.9,472.2 415.3,472.2 416.6,472.1 418.0,472.1 419.4,472.0 420.7,472.0 422.1,471.9 423.5,471.9 424.8,471.8 426.2,471.8 427.6,471.8 428.9,471.7 430.3,471.7 431.7,471.7 433.0,471.7 434.4,471.7 435.8,471.7 437.1,471.7 438.5,471.7 439.9,471.7 441.2,471.7 442.6,471.7 444.0,471.7 445.3,471.7 446.7,471.7 448.1,471.7 449.4,471.7 450.8,471.7 452.2,471.7 453.6,471.7 454.9,471.8 456.3,471.8 457.7,471.8 459.0,471.8 460.4,471.8 461.8,471.8 463.1,471.8 464.5,471.8 465.9,471.8 467.2,471.8 468.6,471.7 470.0,471.7 471.3,471.7 472.7,471.7 474.1,471.6 475.4,471.6 476.8,471.6 478.2,471.5 479.5,471.5 480.9,471.4 482.3,471.3 483.6,471.3 485.0,471.2 486.4,471.1 487.7,471.0 489.1,470.9 490.5,470.8 491.8,470.7 493.2,470.6 494.6,470.5 495.9,470.4 497.3,470.3 498.7,470.2 500.0,470.1 501.4,470.0 502.8,469.8 504.1,469.7 505.5,469.6 506.9,469.5 508.3,469.4 509.6,469.3 511.0,469.2 512.4,469.1 513.7,469.0 515.1,469.0 516.5,468.9 517.8,468.9 519.2,468.8 520.6,468.8 521.9,468.9 523.3,468.9 524.7,469.0 526.0,469.1 527.4,469.2 528.8,469.4 530.1,469.6 531.5,469.9" fill="none" stroke="#858585" stroke-width="0.85" clip-path="url(#cd)"/>
<polyline points="312.7,304.7 314.1,318.0 315.4,330.4 316.8,341.8 318.2,352.4 319.5,362.2 320.9,371.2 322.3,379.5 323.6,387.2 325.0,394.2 326.4,400.6 327.7,406.5 329.1,411.9 330.5,416.8 331.8,421.3 333.2,425.4 334.6,429.0 335.9,432.4 337.3,435.4 338.7,438.1 340.1,440.5 341.4,442.7 342.8,444.7 344.2,446.4 345.5,448.0 346.9,449.4 348.3,450.6 349.6,451.7 351.0,452.7 352.4,453.6 353.7,454.4 355.1,455.1 356.5,455.7 357.8,456.2 359.2,456.7 360.6,457.2 361.9,457.6 363.3,458.0 364.7,458.4 366.0,458.7 367.4,459.0 368.8,459.4 370.1,459.7 371.5,460.0 372.9,460.3 374.2,460.6 375.6,461.0 377.0,461.3 378.3,461.6 379.7,462.0 381.1,462.3 382.4,462.7 383.8,463.1 385.2,463.5 386.5,463.9 387.9,464.3 389.3,464.7 390.6,465.1 392.0,465.5 393.4,465.9 394.8,466.4 396.1,466.8 397.5,467.2 398.9,467.6 400.2,468.0 401.6,468.4 403.0,468.8 404.3,469.2 405.7,469.5 407.1,469.9 408.4,470.2 409.8,470.5 411.2,470.8 412.5,471.1 413.9,471.3 415.3,471.5 416.6,471.7 418.0,471.9 419.4,472.0 420.7,472.1 422.1,472.2 423.5,472.2 424.8,472.2 426.2,472.2 427.6,472.1 428.9,472.0 430.3,471.9 431.7,471.7 433.0,471.5 434.4,471.2 435.8,471.0 437.1,470.7 438.5,470.4 439.9,470.0 441.2,469.6 442.6,469.2 444.0,468.8 445.3,468.3 446.7,467.8 448.1,467.3 449.4,466.8 450.8,466.3 452.2,465.7 453.6,465.2 454.9,464.6 456.3,464.0 457.7,463.5 459.0,462.9 460.4,462.3 461.8,461.8 463.1,461.2 464.5,460.7 465.9,460.2 467.2,459.7 468.6,459.2 470.0,458.7 471.3,458.3 472.7,457.9 474.1,457.5 475.4,457.2 476.8,456.9 478.2,456.7 479.5,456.4 480.9,456.3 482.3,456.1 483.6,456.0 485.0,456.0 486.4,456.0 487.7,456.0 489.1,456.1 490.5,456.3 491.8,456.5 493.2,456.7 494.6,457.0 495.9,457.3 497.3,457.6 498.7,458.0 500.0,458.4 501.4,458.9 502.8,459.4 504.1,459.8 505.5,460.3 506.9,460.8 508.3,461.3 509.6,461.8 511.0,462.2 512.4,462.6 513.7,463.0 515.1,463.3 516.5,463.5 517.8,463.7 519.2,463.7 520.6,463.6 521.9,463.4 523.3,463.0 524.7,462.5 526.0,461.8 527.4,460.8 528.8,459.6 530.1,458.1 531.5,456.4" fill="none" stroke="#858585" stroke-width="0.85" clip-path="url(#cd)"/>
<polyline points="312.7,386.4 314.1,389.8 315.4,393.1 316.8,396.3 318.2,399.5 319.5,402.6 320.9,405.6 322.3,408.5 323.6,411.4 325.0,414.2 326.4,416.9 327.7,419.5 329.1,422.1 330.5,424.6 331.8,427.0 333.2,429.3 334.6,431.6 335.9,433.8 337.3,435.9 338.7,437.9 340.1,439.9 341.4,441.8 342.8,443.6 344.2,445.4 345.5,447.1 346.9,448.7 348.3,450.3 349.6,451.7 351.0,453.2 352.4,454.5 353.7,455.8 355.1,457.1 356.5,458.2 357.8,459.4 359.2,460.4 360.6,461.4 361.9,462.4 363.3,463.3 364.7,464.1 366.0,464.9 367.4,465.7 368.8,466.4 370.1,467.1 371.5,467.7 372.9,468.2 374.2,468.8 375.6,469.3 377.0,469.7 378.3,470.1 379.7,470.5 381.1,470.9 382.4,471.2 383.8,471.5 385.2,471.7 386.5,472.0 387.9,472.2 389.3,472.3 390.6,472.5 392.0,472.6 393.4,472.7 394.8,472.8 396.1,472.9 397.5,473.0 398.9,473.0 400.2,473.0 401.6,473.0 403.0,473.0 404.3,473.0 405.7,473.0 407.1,473.0 408.4,472.9 409.8,472.9 411.2,472.8 412.5,472.8 413.9,472.7 415.3,472.6 416.6,472.6 418.0,472.5 419.4,472.4 420.7,472.3 422.1,472.2 423.5,472.2 424.8,472.1 426.2,472.0 427.6,471.9 428.9,471.9 430.3,471.8 431.7,471.7 433.0,471.7 434.4,471.6 435.8,471.5 437.1,471.5 438.5,471.4 439.9,471.4 441.2,471.3 442.6,471.3 444.0,471.3 445.3,471.2 446.7,471.2 448.1,471.2 449.4,471.2 450.8,471.1 452.2,471.1 453.6,471.1 454.9,471.1 456.3,471.1 457.7,471.1 459.0,471.1 460.4,471.1 461.8,471.2 463.1,471.2 464.5,471.2 465.9,471.2 467.2,471.2 468.6,471.3 470.0,471.3 471.3,471.3 472.7,471.3 474.1,471.3 475.4,471.4 476.8,471.4 478.2,471.4 479.5,471.4 480.9,471.4 482.3,471.5 483.6,471.5 485.0,471.5 486.4,471.5 487.7,471.5 489.1,471.5 490.5,471.5 491.8,471.5 493.2,471.5 494.6,471.5 495.9,471.5 497.3,471.5 498.7,471.5 500.0,471.5 501.4,471.5 502.8,471.5 504.1,471.4 505.5,471.4 506.9,471.4 508.3,471.4 509.6,471.4 511.0,471.4 512.4,471.4 513.7,471.4 515.1,471.4 516.5,471.4 517.8,471.4 519.2,471.4 520.6,471.5 521.9,471.5 523.3,471.6 524.7,471.7 526.0,471.8 527.4,471.9 528.8,472.0 530.1,472.2 531.5,472.4" fill="none" stroke="#858585" stroke-width="0.85" clip-path="url(#cd)"/>
<rect x="311.40" y="452.21" width="2.60" height="2.60" rx="0.59" fill="#b81c2a"/>
<rect x="316.87" y="453.52" width="2.60" height="2.60" rx="0.59" fill="#b81c2a"/>
<rect x="322.34" y="455.70" width="2.60" height="2.60" rx="0.59" fill="#b81c2a"/>
<rect x="327.81" y="457.72" width="2.60" height="2.60" rx="0.59" fill="#b81c2a"/>
<rect x="333.28" y="460.51" width="2.60" height="2.60" rx="0.59" fill="#b81c2a"/>
<rect x="338.75" y="464.58" width="2.60" height="2.60" rx="0.59" fill="#b81c2a"/>
<rect x="344.22" y="465.86" width="2.60" height="2.60" rx="0.59" fill="#b81c2a"/>
<rect x="349.69" y="466.63" width="2.60" height="2.60" rx="0.59" fill="#b81c2a"/>
<rect x="355.16" y="466.63" width="2.60" height="2.60" rx="0.59" fill="#b81c2a"/>
<rect x="360.63" y="467.50" width="2.60" height="2.60" rx="0.59" fill="#b81c2a"/>
<rect x="366.10" y="469.71" width="2.60" height="2.60" rx="0.59" fill="#b81c2a"/>
<rect x="371.57" y="470.81" width="2.60" height="2.60" rx="0.59" fill="#b81c2a"/>
<rect x="377.04" y="471.83" width="2.60" height="2.60" rx="0.59" fill="#b81c2a"/>
<rect x="382.51" y="472.35" width="2.60" height="2.60" rx="0.59" fill="#b81c2a"/>
<rect x="387.98" y="472.60" width="2.60" height="2.60" rx="0.59" fill="#b81c2a"/>
<rect x="393.45" y="472.24" width="2.60" height="2.60" rx="0.59" fill="#b81c2a"/>
<rect x="398.92" y="472.60" width="2.60" height="2.60" rx="0.59" fill="#b81c2a"/>
<rect x="404.39" y="473.22" width="2.60" height="2.60" rx="0.59" fill="#b81c2a"/>
<rect x="409.86" y="473.50" width="2.60" height="2.60" rx="0.59" fill="#b81c2a"/>
<rect x="415.33" y="473.37" width="2.60" height="2.60" rx="0.59" fill="#b81c2a"/>
<rect x="420.80" y="472.60" width="2.60" height="2.60" rx="0.59" fill="#b81c2a"/>
<rect x="426.27" y="471.71" width="2.60" height="2.60" rx="0.59" fill="#b81c2a"/>
<rect x="431.74" y="471.32" width="2.60" height="2.60" rx="0.59" fill="#b81c2a"/>
<rect x="437.21" y="471.06" width="2.60" height="2.60" rx="0.59" fill="#b81c2a"/>
<rect x="442.68" y="470.81" width="2.60" height="2.60" rx="0.59" fill="#b81c2a"/>
<rect x="448.15" y="470.55" width="2.60" height="2.60" rx="0.59" fill="#b81c2a"/>
<rect x="453.62" y="470.30" width="2.60" height="2.60" rx="0.59" fill="#b81c2a"/>
<rect x="459.09" y="470.04" width="2.60" height="2.60" rx="0.59" fill="#b81c2a"/>
<rect x="464.56" y="469.78" width="2.60" height="2.60" rx="0.59" fill="#b81c2a"/>
<rect x="470.03" y="469.53" width="2.60" height="2.60" rx="0.59" fill="#b81c2a"/>
<rect x="475.50" y="469.19" width="2.60" height="2.60" rx="0.59" fill="#b81c2a"/>
<rect x="480.97" y="469.19" width="2.60" height="2.60" rx="0.59" fill="#b81c2a"/>
<rect x="486.44" y="468.76" width="2.60" height="2.60" rx="0.59" fill="#b81c2a"/>
<rect x="491.91" y="468.20" width="2.60" height="2.60" rx="0.59" fill="#b81c2a"/>
<rect x="497.38" y="467.20" width="2.60" height="2.60" rx="0.59" fill="#b81c2a"/>
<rect x="502.85" y="466.51" width="2.60" height="2.60" rx="0.59" fill="#b81c2a"/>
<rect x="508.32" y="465.92" width="2.60" height="2.60" rx="0.59" fill="#b81c2a"/>
<rect x="513.79" y="465.94" width="2.60" height="2.60" rx="0.59" fill="#b81c2a"/>
<rect x="519.26" y="465.94" width="2.60" height="2.60" rx="0.59" fill="#b81c2a"/>
<rect x="524.73" y="465.94" width="2.60" height="2.60" rx="0.59" fill="#b81c2a"/>
<rect x="530.20" y="465.51" width="2.60" height="2.60" rx="0.59" fill="#b81c2a"/>
<path d="M312.70,453.21 L314.07,455.82 L311.32,455.82Z" fill="#6b9b2c"/>
<path d="M318.17,455.82 L319.55,458.44 L316.80,458.44Z" fill="#6b9b2c"/>
<path d="M323.64,459.23 L325.01,461.84 L322.26,461.84Z" fill="#6b9b2c"/>
<path d="M329.11,461.77 L330.49,464.38 L327.74,464.38Z" fill="#6b9b2c"/>
<path d="M334.58,461.54 L335.95,464.15 L333.20,464.15Z" fill="#6b9b2c"/>
<path d="M340.05,465.33 L341.43,467.94 L338.68,467.94Z" fill="#6b9b2c"/>
<path d="M345.52,468.50 L346.89,471.12 L344.14,471.12Z" fill="#6b9b2c"/>
<path d="M350.99,472.70 L352.37,475.32 L349.62,475.32Z" fill="#6b9b2c"/>
<path d="M356.46,472.96 L357.83,475.57 L355.08,475.57Z" fill="#6b9b2c"/>
<path d="M361.93,472.70 L363.31,475.32 L360.56,475.32Z" fill="#6b9b2c"/>
<path d="M367.40,471.71 L368.77,474.32 L366.02,474.32Z" fill="#6b9b2c"/>
<path d="M372.87,471.55 L374.25,474.16 L371.50,474.16Z" fill="#6b9b2c"/>
<path d="M378.34,471.30 L379.71,473.91 L376.96,473.91Z" fill="#6b9b2c"/>
<path d="M383.81,471.17 L385.19,473.78 L382.44,473.78Z" fill="#6b9b2c"/>
<path d="M389.28,471.04 L390.65,473.65 L387.90,473.65Z" fill="#6b9b2c"/>
<path d="M394.75,471.04 L396.12,473.65 L393.38,473.65Z" fill="#6b9b2c"/>
<path d="M400.22,470.91 L401.59,473.52 L398.84,473.52Z" fill="#6b9b2c"/>
<path d="M405.69,471.04 L407.06,473.65 L404.31,473.65Z" fill="#6b9b2c"/>
<path d="M411.16,470.91 L412.53,473.52 L409.78,473.52Z" fill="#6b9b2c"/>
<path d="M416.63,470.78 L418.00,473.40 L415.25,473.40Z" fill="#6b9b2c"/>
<path d="M422.10,470.78 L423.47,473.40 L420.72,473.40Z" fill="#6b9b2c"/>
<path d="M427.57,470.66 L428.94,473.27 L426.19,473.27Z" fill="#6b9b2c"/>
<path d="M433.04,470.53 L434.41,473.14 L431.66,473.14Z" fill="#6b9b2c"/>
<path d="M438.51,470.53 L439.88,473.14 L437.13,473.14Z" fill="#6b9b2c"/>
<path d="M443.98,470.40 L445.36,473.01 L442.61,473.01Z" fill="#6b9b2c"/>
<path d="M449.45,470.27 L450.82,472.88 L448.07,472.88Z" fill="#6b9b2c"/>
<path d="M454.92,470.27 L456.29,472.88 L453.54,472.88Z" fill="#6b9b2c"/>
<path d="M460.39,470.14 L461.76,472.76 L459.01,472.76Z" fill="#6b9b2c"/>
<path d="M465.86,470.01 L467.24,472.63 L464.49,472.63Z" fill="#6b9b2c"/>
<path d="M471.33,469.89 L472.70,472.50 L469.95,472.50Z" fill="#6b9b2c"/>
<path d="M476.80,469.76 L478.17,472.37 L475.42,472.37Z" fill="#6b9b2c"/>
<path d="M482.27,469.50 L483.64,472.12 L480.89,472.12Z" fill="#6b9b2c"/>
<path d="M487.74,469.25 L489.12,471.86 L486.37,471.86Z" fill="#6b9b2c"/>
<path d="M493.21,468.73 L494.58,471.35 L491.83,471.35Z" fill="#6b9b2c"/>
<path d="M498.68,468.22 L500.05,470.83 L497.30,470.83Z" fill="#6b9b2c"/>
<path d="M504.15,468.09 L505.52,470.71 L502.77,470.71Z" fill="#6b9b2c"/>
<path d="M509.62,467.97 L511.00,470.58 L508.25,470.58Z" fill="#6b9b2c"/>
<path d="M515.09,467.97 L516.46,470.58 L513.71,470.58Z" fill="#6b9b2c"/>
<path d="M520.56,467.84 L521.93,470.45 L519.18,470.45Z" fill="#6b9b2c"/>
<path d="M526.03,467.71 L527.40,470.32 L524.65,470.32Z" fill="#6b9b2c"/>
<path d="M531.50,467.63 L532.88,470.25 L530.12,470.25Z" fill="#6b9b2c"/>
<path d="M311.53,297.78 L313.87,300.12 M313.87,297.78 L311.53,300.12" stroke="#c4c4c4" stroke-width="0.85" fill="none"/>
<path d="M317.00,338.51 L319.34,340.85 M319.34,338.51 L317.00,340.85" stroke="#c4c4c4" stroke-width="0.85" fill="none"/>
<path d="M322.47,408.69 L324.81,411.03 M324.81,408.69 L322.47,411.03" stroke="#c4c4c4" stroke-width="0.85" fill="none"/>
<path d="M327.94,426.88 L330.28,429.22 M330.28,426.88 L327.94,429.22" stroke="#c4c4c4" stroke-width="0.85" fill="none"/>
<path d="M333.41,429.19 L335.75,431.53 M335.75,429.19 L333.41,431.53" stroke="#c4c4c4" stroke-width="0.85" fill="none"/>
<path d="M338.88,430.98 L341.22,433.32 M341.22,430.98 L338.88,433.32" stroke="#c4c4c4" stroke-width="0.85" fill="none"/>
<path d="M344.35,435.08 L346.69,437.42 M346.69,435.08 L344.35,437.42" stroke="#c4c4c4" stroke-width="0.85" fill="none"/>
<path d="M349.82,443.02 L352.16,445.36 M352.16,443.02 L349.82,445.36" stroke="#c4c4c4" stroke-width="0.85" fill="none"/>
<path d="M355.29,448.91 L357.63,451.25 M357.63,448.91 L355.29,451.25" stroke="#c4c4c4" stroke-width="0.85" fill="none"/>
<path d="M360.76,454.29 L363.10,456.63 M363.10,454.29 L360.76,456.63" stroke="#c4c4c4" stroke-width="0.85" fill="none"/>
<path d="M366.23,457.87 L368.57,460.21 M368.57,457.87 L366.23,460.21" stroke="#c4c4c4" stroke-width="0.85" fill="none"/>
<path d="M371.70,460.69 L374.04,463.03 M374.04,460.69 L371.70,463.03" stroke="#c4c4c4" stroke-width="0.85" fill="none"/>
<path d="M377.17,464.53 L379.51,466.87 M379.51,464.53 L377.17,466.87" stroke="#c4c4c4" stroke-width="0.85" fill="none"/>
<path d="M382.64,467.61 L384.98,469.95 M384.98,467.61 L382.64,469.95" stroke="#c4c4c4" stroke-width="0.85" fill="none"/>
<path d="M388.11,468.89 L390.45,471.23 M390.45,468.89 L388.11,471.23" stroke="#c4c4c4" stroke-width="0.85" fill="none"/>
<path d="M393.58,469.66 L395.92,472.00 M395.92,469.66 L393.58,472.00" stroke="#c4c4c4" stroke-width="0.85" fill="none"/>
<path d="M399.05,470.43 L401.39,472.77 M401.39,470.43 L399.05,472.77" stroke="#c4c4c4" stroke-width="0.85" fill="none"/>
<path d="M404.52,470.68 L406.86,473.02 M406.86,470.68 L404.52,473.02" stroke="#c4c4c4" stroke-width="0.85" fill="none"/>
<path d="M409.99,470.43 L412.33,472.77 M412.33,470.43 L409.99,472.77" stroke="#c4c4c4" stroke-width="0.85" fill="none"/>
<path d="M415.46,469.15 L417.80,471.49 M417.80,469.15 L415.46,471.49" stroke="#c4c4c4" stroke-width="0.85" fill="none"/>
<path d="M420.93,467.35 L423.27,469.69 M423.27,467.35 L420.93,469.69" stroke="#c4c4c4" stroke-width="0.85" fill="none"/>
<path d="M426.40,466.94 L428.74,469.28 M428.74,466.94 L426.40,469.28" stroke="#c4c4c4" stroke-width="0.85" fill="none"/>
<path d="M431.87,466.23 L434.21,468.57 M434.21,466.23 L431.87,468.57" stroke="#c4c4c4" stroke-width="0.85" fill="none"/>
<path d="M437.34,465.64 L439.68,467.98 M439.68,465.64 L437.34,467.98" stroke="#c4c4c4" stroke-width="0.85" fill="none"/>
<path d="M442.81,464.79 L445.15,467.13 M445.15,464.79 L442.81,467.13" stroke="#c4c4c4" stroke-width="0.85" fill="none"/>
<path d="M448.28,464.02 L450.62,466.36 M450.62,464.02 L448.28,466.36" stroke="#c4c4c4" stroke-width="0.85" fill="none"/>
<path d="M453.75,462.84 L456.09,465.18 M456.09,462.84 L453.75,465.18" stroke="#c4c4c4" stroke-width="0.85" fill="none"/>
<path d="M459.22,461.33 L461.56,463.67 M461.56,461.33 L459.22,463.67" stroke="#c4c4c4" stroke-width="0.85" fill="none"/>
<path d="M464.69,460.05 L467.03,462.39 M467.03,460.05 L464.69,462.39" stroke="#c4c4c4" stroke-width="0.85" fill="none"/>
<path d="M470.16,459.64 L472.50,461.98 M472.50,459.64 L470.16,461.98" stroke="#c4c4c4" stroke-width="0.85" fill="none"/>
<path d="M475.63,458.64 L477.97,460.98 M477.97,458.64 L475.63,460.98" stroke="#c4c4c4" stroke-width="0.85" fill="none"/>
<path d="M481.10,458.05 L483.44,460.39 M483.44,458.05 L481.10,460.39" stroke="#c4c4c4" stroke-width="0.85" fill="none"/>
<path d="M486.57,457.64 L488.91,459.98 M488.91,457.64 L486.57,459.98" stroke="#c4c4c4" stroke-width="0.85" fill="none"/>
<path d="M492.04,457.36 L494.38,459.70 M494.38,457.36 L492.04,459.70" stroke="#c4c4c4" stroke-width="0.85" fill="none"/>
<path d="M497.51,457.62 L499.85,459.96 M499.85,457.62 L497.51,459.96" stroke="#c4c4c4" stroke-width="0.85" fill="none"/>
<path d="M502.98,458.34 L505.32,460.68 M505.32,458.34 L502.98,460.68" stroke="#c4c4c4" stroke-width="0.85" fill="none"/>
<path d="M508.45,457.85 L510.79,460.19 M510.79,457.85 L508.45,460.19" stroke="#c4c4c4" stroke-width="0.85" fill="none"/>
<path d="M513.92,458.64 L516.26,460.98 M516.26,458.64 L513.92,460.98" stroke="#c4c4c4" stroke-width="0.85" fill="none"/>
<path d="M519.39,459.33 L521.73,461.67 M521.73,459.33 L519.39,461.67" stroke="#c4c4c4" stroke-width="0.85" fill="none"/>
<path d="M524.86,458.90 L527.20,461.24 M527.20,458.90 L524.86,461.24" stroke="#c4c4c4" stroke-width="0.85" fill="none"/>
<path d="M530.33,460.05 L532.67,462.39 M532.67,460.05 L530.33,462.39" stroke="#c4c4c4" stroke-width="0.85" fill="none"/>
<circle cx="312.70" cy="392.96" r="1.35" fill="#f38a2c"/>
<circle cx="318.17" cy="392.96" r="1.35" fill="#f38a2c"/>
<circle cx="323.64" cy="404.23" r="1.35" fill="#f38a2c"/>
<circle cx="329.11" cy="420.88" r="1.35" fill="#f38a2c"/>
<circle cx="334.58" cy="438.55" r="1.35" fill="#f38a2c"/>
<circle cx="340.05" cy="444.70" r="1.35" fill="#f38a2c"/>
<circle cx="345.52" cy="447.26" r="1.35" fill="#f38a2c"/>
<circle cx="350.99" cy="452.72" r="1.35" fill="#f38a2c"/>
<circle cx="356.46" cy="457.71" r="1.35" fill="#f38a2c"/>
<circle cx="361.93" cy="462.12" r="1.35" fill="#f38a2c"/>
<circle cx="367.40" cy="464.53" r="1.35" fill="#f38a2c"/>
<circle cx="372.87" cy="466.91" r="1.35" fill="#f38a2c"/>
<circle cx="378.34" cy="469.70" r="1.35" fill="#f38a2c"/>
<circle cx="383.81" cy="471.34" r="1.35" fill="#f38a2c"/>
<circle cx="389.28" cy="472.11" r="1.35" fill="#f38a2c"/>
<circle cx="394.75" cy="472.62" r="1.35" fill="#f38a2c"/>
<circle cx="400.22" cy="472.88" r="1.35" fill="#f38a2c"/>
<circle cx="405.69" cy="472.88" r="1.35" fill="#f38a2c"/>
<circle cx="411.16" cy="473.13" r="1.35" fill="#f38a2c"/>
<circle cx="416.63" cy="472.88" r="1.35" fill="#f38a2c"/>
<circle cx="422.10" cy="472.62" r="1.35" fill="#f38a2c"/>
<circle cx="427.57" cy="472.11" r="1.35" fill="#f38a2c"/>
<circle cx="433.04" cy="471.98" r="1.35" fill="#f38a2c"/>
<circle cx="438.51" cy="471.85" r="1.35" fill="#f38a2c"/>
<circle cx="443.98" cy="471.72" r="1.35" fill="#f38a2c"/>
<circle cx="449.45" cy="471.34" r="1.35" fill="#f38a2c"/>
<circle cx="454.92" cy="471.34" r="1.35" fill="#f38a2c"/>
<circle cx="460.39" cy="471.21" r="1.35" fill="#f38a2c"/>
<circle cx="465.86" cy="471.08" r="1.35" fill="#f38a2c"/>
<circle cx="471.33" cy="470.96" r="1.35" fill="#f38a2c"/>
<circle cx="476.80" cy="470.83" r="1.35" fill="#f38a2c"/>
<circle cx="482.27" cy="470.80" r="1.35" fill="#f38a2c"/>
<circle cx="487.74" cy="470.83" r="1.35" fill="#f38a2c"/>
<circle cx="493.21" cy="471.21" r="1.35" fill="#f38a2c"/>
<circle cx="498.68" cy="471.80" r="1.35" fill="#f38a2c"/>
<circle cx="504.15" cy="471.80" r="1.35" fill="#f38a2c"/>
<circle cx="509.62" cy="471.80" r="1.35" fill="#f38a2c"/>
<circle cx="515.09" cy="471.80" r="1.35" fill="#f38a2c"/>
<circle cx="520.56" cy="471.80" r="1.35" fill="#f38a2c"/>
<circle cx="526.03" cy="471.80" r="1.35" fill="#f38a2c"/>
<circle cx="531.50" cy="471.80" r="1.35" fill="#f38a2c"/>
<rect x="345.90" y="278.60" width="2.40" height="2.40" rx="0.54" fill="#b81c2a"/>
<text x="351.80" y="282.75" font-size="8.2" fill="#363636" textLength="33.5" lengthAdjust="spacingAndGlyphs">Argentina</text>
<path d="M347.10,291.58 L348.42,294.09 L345.78,294.09Z" fill="#6b9b2c"/>
<text x="351.80" y="296.05" font-size="8.2" fill="#363636" textLength="17.3" lengthAdjust="spacingAndGlyphs">Cuba</text>
<path d="M346.02,305.32 L348.18,307.48 M348.18,305.32 L346.02,307.48" stroke="#c4c4c4" stroke-width="0.85" fill="none"/>
<text x="351.80" y="309.35" font-size="8.2" fill="#363636" textLength="13.1" lengthAdjust="spacingAndGlyphs">Iran</text>
<circle cx="347.10" cy="319.70" r="1.2" fill="#f38a2c"/>
<text x="351.80" y="322.65" font-size="8.2" fill="#363636" textLength="26.4" lengthAdjust="spacingAndGlyphs">Ukraine</text>
<text x="509.30" y="286.00" text-anchor="middle" font-size="10" fill="#333" textLength="12" lengthAdjust="spacingAndGlyphs">(d)</text>
<text x="422.10" y="503.00" text-anchor="middle" font-size="8.8" fill="#363636" textLength="16.2" lengthAdjust="spacingAndGlyphs">Days</text>
<text transform="translate(288.40,375.00) rotate(-90)" x="0" y="0" text-anchor="middle" font-size="7.8" fill="#363636" textLength="55" lengthAdjust="spacingAndGlyphs" dominant-baseline="central">3DMA CFRs&#160;&#160;(%)</text>
</svg>
</body></html>
